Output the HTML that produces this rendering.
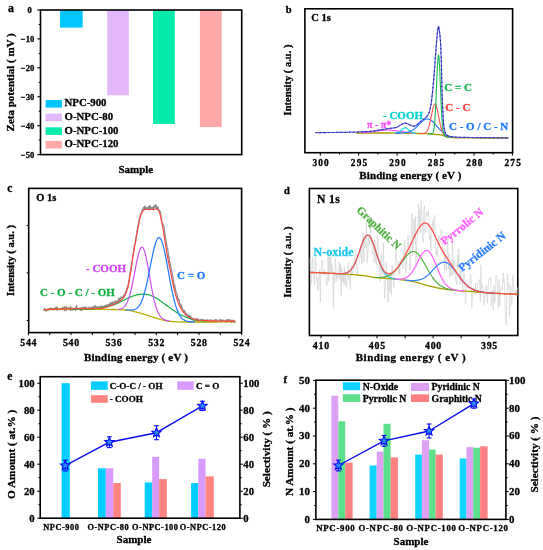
<!DOCTYPE html>
<html><head><meta charset="utf-8"><style>
html,body{margin:0;padding:0;background:#fff;}
svg{display:block;filter:blur(0.35px);}
text{font-family:"Liberation Serif",serif;font-weight:bold;}
</style></head><body>
<svg width="543" height="550" viewBox="0 0 543 550">
<rect width="543" height="550" fill="#fff"/>
<rect x="60.1" y="10.0" width="22.6" height="17.6" fill="#00C5FF"/>
<rect x="107.2" y="10.0" width="21.6" height="85.3" fill="#E2B8FA"/>
<rect x="153.0" y="10.0" width="21.8" height="113.9" fill="#03EBAB"/>
<rect x="199.9" y="10.0" width="21.8" height="117.1" fill="#FFA8AA"/>
<rect x="40.5" y="10.0" width="201.2" height="144.6" fill="none" stroke="#000" stroke-width="1.6"/>
<line x1="37.3" y1="10.0" x2="40.5" y2="10.0" stroke="#000" stroke-width="1.1"/>
<text x="31.9" y="12.9" font-size="8.6" text-anchor="end" fill="#000" stroke="#000" stroke-width="0.3" >0</text>
<line x1="37.3" y1="38.9" x2="40.5" y2="38.9" stroke="#000" stroke-width="1.1"/>
<text x="34.3" y="41.8" font-size="8.6" text-anchor="end" fill="#000" stroke="#000" stroke-width="0.3" >−10</text>
<line x1="37.3" y1="67.8" x2="40.5" y2="67.8" stroke="#000" stroke-width="1.1"/>
<text x="34.3" y="70.7" font-size="8.6" text-anchor="end" fill="#000" stroke="#000" stroke-width="0.3" >−20</text>
<line x1="37.3" y1="96.8" x2="40.5" y2="96.8" stroke="#000" stroke-width="1.1"/>
<text x="34.3" y="99.7" font-size="8.6" text-anchor="end" fill="#000" stroke="#000" stroke-width="0.3" >−30</text>
<line x1="37.3" y1="125.7" x2="40.5" y2="125.7" stroke="#000" stroke-width="1.1"/>
<text x="34.3" y="128.6" font-size="8.6" text-anchor="end" fill="#000" stroke="#000" stroke-width="0.3" >−40</text>
<line x1="37.3" y1="154.6" x2="40.5" y2="154.6" stroke="#000" stroke-width="1.1"/>
<text x="34.3" y="157.5" font-size="8.6" text-anchor="end" fill="#000" stroke="#000" stroke-width="0.3" >−50</text>
<line x1="38.7" y1="24.5" x2="40.5" y2="24.5" stroke="#000" stroke-width="1.0"/>
<line x1="38.7" y1="53.4" x2="40.5" y2="53.4" stroke="#000" stroke-width="1.0"/>
<line x1="38.7" y1="82.3" x2="40.5" y2="82.3" stroke="#000" stroke-width="1.0"/>
<line x1="38.7" y1="111.2" x2="40.5" y2="111.2" stroke="#000" stroke-width="1.0"/>
<line x1="38.7" y1="140.1" x2="40.5" y2="140.1" stroke="#000" stroke-width="1.0"/>
<text x="7.9" y="11.6" font-size="11.8" text-anchor="start" fill="#000" stroke="#000" stroke-width="0.3" >a</text>
<text transform="translate(14.2,82.3) rotate(-90)" font-size="11" text-anchor="middle" fill="#000" stroke="#000" stroke-width="0.3" >Zeta potential ( mV )</text>
<text x="135.8" y="172.8" font-size="11" text-anchor="middle" fill="#000" stroke="#000" stroke-width="0.3" >Sample</text>
<rect x="45.6" y="100.0" width="16.3" height="7.6" fill="#00C5FF"/>
<text x="64.5" y="106.2" font-size="10.8" text-anchor="start" fill="#000" stroke="#000" stroke-width="0.3" >NPC-900</text>
<rect x="45.6" y="113.7" width="16.3" height="7.6" fill="#E2B8FA"/>
<text x="64.5" y="119.9" font-size="10.8" text-anchor="start" fill="#000" stroke="#000" stroke-width="0.3" >O-NPC-80</text>
<rect x="45.6" y="127.3" width="16.3" height="7.6" fill="#03EBAB"/>
<text x="64.5" y="133.5" font-size="10.8" text-anchor="start" fill="#000" stroke="#000" stroke-width="0.3" >O-NPC-100</text>
<rect x="45.6" y="140.9" width="16.3" height="7.6" fill="#FFA8AA"/>
<text x="64.5" y="147.2" font-size="10.8" text-anchor="start" fill="#000" stroke="#000" stroke-width="0.3" >O-NPC-120</text>
<rect x="304.9" y="8.8" width="207.7" height="143.9" fill="none" stroke="#000" stroke-width="1.6"/>
<line x1="320.3" y1="152.7" x2="320.3" y2="155.7" stroke="#000" stroke-width="1.0"/>
<text x="321.2" y="165.6" font-size="9.3" text-anchor="middle" fill="#000" stroke="#000" stroke-width="0.3" letter-spacing="1.2">300</text>
<line x1="339.5" y1="152.7" x2="339.5" y2="154.5" stroke="#000" stroke-width="1.0"/>
<line x1="358.7" y1="152.7" x2="358.7" y2="155.7" stroke="#000" stroke-width="1.0"/>
<text x="359.6" y="165.6" font-size="9.3" text-anchor="middle" fill="#000" stroke="#000" stroke-width="0.3" letter-spacing="1.2">295</text>
<line x1="377.9" y1="152.7" x2="377.9" y2="154.5" stroke="#000" stroke-width="1.0"/>
<line x1="397.1" y1="152.7" x2="397.1" y2="155.7" stroke="#000" stroke-width="1.0"/>
<text x="398.0" y="165.6" font-size="9.3" text-anchor="middle" fill="#000" stroke="#000" stroke-width="0.3" letter-spacing="1.2">290</text>
<line x1="416.4" y1="152.7" x2="416.4" y2="154.5" stroke="#000" stroke-width="1.0"/>
<line x1="435.6" y1="152.7" x2="435.6" y2="155.7" stroke="#000" stroke-width="1.0"/>
<text x="436.5" y="165.6" font-size="9.3" text-anchor="middle" fill="#000" stroke="#000" stroke-width="0.3" letter-spacing="1.2">285</text>
<line x1="454.8" y1="152.7" x2="454.8" y2="154.5" stroke="#000" stroke-width="1.0"/>
<line x1="474.0" y1="152.7" x2="474.0" y2="155.7" stroke="#000" stroke-width="1.0"/>
<text x="474.9" y="165.6" font-size="9.3" text-anchor="middle" fill="#000" stroke="#000" stroke-width="0.3" letter-spacing="1.2">280</text>
<line x1="493.2" y1="152.7" x2="493.2" y2="154.5" stroke="#000" stroke-width="1.0"/>
<line x1="512.4" y1="152.7" x2="512.4" y2="155.7" stroke="#000" stroke-width="1.0"/>
<text x="513.3" y="165.6" font-size="9.3" text-anchor="middle" fill="#000" stroke="#000" stroke-width="0.3" letter-spacing="1.2">275</text>
<text x="285.8" y="12.8" font-size="10.5" text-anchor="start" fill="#000" stroke="#000" stroke-width="0.3" >b</text>
<text x="311.3" y="21.3" font-size="10.5" text-anchor="start" fill="#000" stroke="#000" stroke-width="0.3" >C 1s</text>
<text transform="translate(291.0,80.0) rotate(-90)" font-size="10.5" text-anchor="middle" fill="#000" stroke="#000" stroke-width="0.3" >Intensity ( a.u. )</text>
<text x="410.4" y="178.7" font-size="11" text-anchor="middle" fill="#000" stroke="#000" stroke-width="0.3" letter-spacing="0.1">Binding energy ( eV )</text>
<path d="M356.0,133.0 356.5,133.0 357.0,133.0 357.5,133.0 358.0,133.0 358.5,133.0 359.0,133.0 359.5,133.0 360.0,133.0 360.5,133.0 361.0,133.0 361.5,133.0 362.0,133.0 362.5,133.0 363.0,133.0 363.5,133.0 364.0,133.0 364.5,133.0 365.0,133.0 365.5,133.0 366.0,133.0 366.5,133.0 367.0,133.0 367.5,133.0 368.0,133.0 368.5,133.0 369.0,133.0 369.5,133.0 370.0,133.0 370.5,133.0 371.0,133.0 371.5,133.0 372.0,133.0 372.5,133.0 373.0,133.0 373.5,133.0 374.0,133.0 374.5,133.0 375.0,133.0 375.5,133.0 376.0,133.0 376.5,133.0 377.0,133.0 377.5,133.0 378.0,133.0 378.5,133.0 379.0,133.0 379.5,133.0 380.0,133.0 380.5,133.0 381.0,133.0 381.5,133.0 382.0,133.0 382.5,133.0 383.0,133.0 383.5,133.0 384.0,133.0 384.5,133.0 385.0,133.0 385.5,133.0 386.0,133.0 386.5,133.0 387.0,133.0 387.5,133.0 388.0,133.0 388.5,133.0 389.0,133.0 389.5,133.0 390.0,133.0 390.5,133.0 391.0,133.0 391.5,133.0 392.0,133.1 392.5,133.1 393.0,133.1 393.5,133.1 394.0,133.1 394.5,133.1 395.0,133.1 395.5,133.1 396.0,133.1 396.5,133.1 397.0,133.1 397.5,133.1 398.0,133.1 398.5,133.1 399.0,133.1 399.5,133.1 400.0,133.1 400.5,133.1 401.0,133.2 401.5,133.2 402.0,133.2 402.5,133.2 403.0,133.2 403.5,133.2 404.0,133.2 404.5,133.2 405.0,133.2 405.5,133.2 406.0,133.2 406.5,133.2 407.0,133.2 407.5,133.3 408.0,133.3 408.5,133.3 409.0,133.3 409.5,133.3 410.0,133.3 410.5,133.3 411.0,133.3 411.5,133.3 412.0,133.3 412.5,133.3 413.0,133.4 413.5,133.4 414.0,133.4 414.5,133.4 415.0,133.4 415.5,133.4 416.0,133.4 416.5,133.4 417.0,133.4 417.5,133.4 418.0,133.5 418.5,133.5 419.0,133.5 419.5,133.5 420.0,133.5 420.5,133.5 421.0,133.5 421.5,133.5 422.0,133.6 422.5,133.6 423.0,133.6 423.5,133.6 424.0,133.6 424.5,133.7 425.0,133.7 425.5,133.7 426.0,133.7 426.5,133.7 427.0,133.8 427.5,133.8 428.0,133.8 428.5,133.9 429.0,133.9 429.5,133.9 430.0,133.9 430.5,134.0 431.0,134.0 431.5,134.0 432.0,134.1 432.5,134.1 433.0,134.1 433.5,134.2 434.0,134.2 434.5,134.3 435.0,134.3 435.5,134.4 436.0,134.4 436.5,134.5 437.0,134.5 437.5,134.5 438.0,134.6 438.5,134.6 439.0,134.7 439.5,134.7 440.0,134.8 440.5,134.9 441.0,134.9 441.5,135.0 442.0,135.1 442.5,135.2 443.0,135.4 443.5,135.6 444.0,135.8 444.5,136.1 445.0,136.3 445.5,136.5 446.0,136.7 446.5,136.8 447.0,136.9 447.5,137.0 448.0,137.0 448.5,137.1 449.0,137.2 449.5,137.2 450.0,137.3 450.5,137.4 451.0,137.4 451.5,137.5 452.0,137.6 452.5,137.6 453.0,137.7 453.5,137.7 454.0,137.8 454.5,137.8 455.0,137.8 455.5,137.8 456.0,137.8 456.5,137.8 457.0,137.8 457.5,137.8 458.0,137.8 458.5,137.8 459.0,137.8 459.5,137.8 460.0,137.8 460.5,137.8 461.0,137.9 461.5,137.9 462.0,137.9 462.5,137.9 463.0,137.9 463.5,137.9 464.0,137.9 464.5,137.9 465.0,137.9 465.5,137.9 466.0,137.9 466.5,137.9 467.0,137.9 467.5,137.9 468.0,137.9 468.5,137.9 469.0,137.9 469.5,137.9 470.0,137.9 470.5,137.9 471.0,137.9 471.5,137.9 472.0,137.9 472.5,137.9 473.0,137.9 473.5,137.9 474.0,137.9 474.5,137.9 475.0,137.9 475.5,137.9 476.0,137.9 476.5,137.9 477.0,137.9 477.5,137.9 478.0,138.0 478.5,138.0 479.0,138.0 479.5,138.0 480.0,138.0 480.5,138.0 481.0,138.0 481.5,138.0 482.0,138.0 482.5,138.0 483.0,138.0 483.5,138.0 484.0,138.0 484.5,138.0 485.0,138.0 485.5,138.0 486.0,138.0 486.5,138.0 487.0,138.0 487.5,138.0 488.0,138.0 488.5,138.0 489.0,138.0 489.5,138.0 490.0,138.0 490.5,138.0 491.0,138.0 491.5,138.0 492.0,138.0 492.5,138.0 493.0,138.0 493.5,138.0 494.0,138.0 494.5,138.0 495.0,138.0 495.5,138.0 496.0,138.0 496.5,138.0 497.0,138.0 497.5,138.0 498.0,138.0 498.5,138.0 499.0,138.0 499.5,138.0 500.0,138.0 500.5,138.0 501.0,138.0 501.5,138.0 502.0,138.0 502.5,138.0 503.0,138.0 503.5,138.0 504.0,138.0 504.5,138.0 505.0,138.0 505.5,138.0 506.0,138.0 506.5,138.0 507.0,138.0 507.5,138.0 508.0,138.0 508.5,138.0" fill="none" stroke="#A89A00" stroke-width="1.3" stroke-linejoin="round" />
<path d="M362.0,132.7 362.2,132.7 362.5,132.7 362.8,132.7 363.0,132.7 363.2,132.6 363.5,132.6 363.8,132.6 364.0,132.6 364.2,132.6 364.5,132.6 364.8,132.5 365.0,132.5 365.2,132.5 365.5,132.5 365.8,132.5 366.0,132.4 366.2,132.4 366.5,132.4 366.8,132.4 367.0,132.4 367.2,132.3 367.5,132.3 367.8,132.3 368.0,132.3 368.2,132.2 368.5,132.2 368.8,132.2 369.0,132.1 369.2,132.1 369.5,132.1 369.8,132.1 370.0,132.0 370.2,132.0 370.5,132.0 370.8,131.9 371.0,131.9 371.2,131.9 371.5,131.8 371.8,131.8 372.0,131.8 372.2,131.7 372.5,131.7 372.8,131.7 373.0,131.6 373.2,131.6 373.5,131.6 373.8,131.5 374.0,131.5 374.2,131.4 374.5,131.4 374.8,131.4 375.0,131.3 375.2,131.3 375.5,131.3 375.8,131.2 376.0,131.2 376.2,131.1 376.5,131.1 376.8,131.1 377.0,131.0 377.2,131.0 377.5,131.0 377.8,130.9 378.0,130.9 378.2,130.8 378.5,130.8 378.8,130.8 379.0,130.7 379.2,130.7 379.5,130.7 379.8,130.6 380.0,130.6 380.2,130.6 380.5,130.5 380.8,130.5 381.0,130.5 381.2,130.4 381.5,130.4 381.8,130.4 382.0,130.4 382.2,130.3 382.5,130.3 382.8,130.3 383.0,130.3 383.2,130.2 383.5,130.2 383.8,130.2 384.0,130.2 384.2,130.1 384.5,130.1 384.8,130.1 385.0,130.1 385.2,130.1 385.5,130.1 385.8,130.1 386.0,130.1 386.2,130.0 386.5,130.0 386.8,130.0 387.0,130.0 387.2,130.0 387.5,130.0 387.8,130.0 388.0,130.0 388.2,130.0 388.5,130.0 388.8,130.0 389.0,130.0 389.2,130.0 389.5,130.1 389.8,130.1 390.0,130.1 390.2,130.1 390.5,130.1 390.8,130.1 391.0,130.1 391.2,130.2 391.5,130.2 391.8,130.2 392.0,130.2 392.2,130.2 392.5,130.3 392.8,130.3 393.0,130.3 393.2,130.3 393.5,130.4 393.8,130.4 394.0,130.4 394.2,130.5 394.5,130.5 394.8,130.5 395.0,130.6 395.2,130.6 395.5,130.6 395.8,130.7 396.0,130.7 396.2,130.7 396.5,130.8 396.8,130.8 397.0,130.8 397.2,130.9 397.5,130.9 397.8,131.0 398.0,131.0 398.2,131.0 398.5,131.1 398.8,131.1 399.0,131.2 399.2,131.2 399.5,131.2 399.8,131.3 400.0,131.3 400.2,131.4 400.5,131.4 400.8,131.4 401.0,131.5 401.2,131.5 401.5,131.6 401.8,131.6 402.0,131.6 402.2,131.7 402.5,131.7 402.8,131.8 403.0,131.8 403.2,131.8 403.5,131.9 403.8,131.9 404.0,132.0 404.2,132.0 404.5,132.0 404.8,132.1 405.0,132.1 405.2,132.1 405.5,132.2 405.8,132.2 406.0,132.3 406.2,132.3 406.5,132.3 406.8,132.4 407.0,132.4 407.2,132.4 407.5,132.5 407.8,132.5 408.0,132.5 408.2,132.5 408.5,132.6 408.8,132.6 409.0,132.6 409.2,132.7 409.5,132.7 409.8,132.7 410.0,132.7 410.2,132.8 410.5,132.8 410.8,132.8 411.0,132.8 411.2,132.9 411.5,132.9 411.8,132.9 412.0,132.9 412.2,133.0 412.5,133.0 412.8,133.0 413.0,133.0 413.2,133.0 413.5,133.1 413.8,133.1 414.0,133.1" fill="none" stroke="#FF44FF" stroke-width="1.1" stroke-linejoin="round" />
<path d="M396.0,133.0 396.2,132.9 396.5,132.9 396.8,132.9 397.0,132.8 397.2,132.8 397.5,132.7 397.8,132.7 398.0,132.6 398.2,132.5 398.5,132.4 398.8,132.3 399.0,132.2 399.2,132.0 399.5,131.9 399.8,131.7 400.0,131.5 400.2,131.4 400.5,131.2 400.8,130.9 401.0,130.7 401.2,130.5 401.5,130.3 401.8,130.0 402.0,129.8 402.2,129.6 402.5,129.3 402.8,129.1 403.0,128.9 403.2,128.7 403.5,128.5 403.8,128.3 404.0,128.2 404.2,128.1 404.5,128.0 404.8,127.9 405.0,127.8 405.2,127.8 405.5,127.8 405.8,127.9 406.0,127.9 406.2,128.0 406.5,128.2 406.8,128.3 407.0,128.5 407.2,128.7 407.5,128.9 407.8,129.1 408.0,129.3 408.2,129.6 408.5,129.8 408.8,130.0 409.0,130.3 409.2,130.5 409.5,130.8 409.8,131.0 410.0,131.2 410.2,131.4 410.5,131.6 410.8,131.8 411.0,132.0 411.2,132.2 411.5,132.3 411.8,132.4 412.0,132.6 412.2,132.7 412.5,132.8 412.8,132.9 413.0,132.9 413.2,133.0 413.5,133.1 413.8,133.1 414.0,133.2 414.2,133.2 414.5,133.2 414.8,133.3 415.0,133.3 415.2,133.3 415.5,133.3 415.8,133.4 416.0,133.4" fill="none" stroke="#00D2D2" stroke-width="1.1" stroke-linejoin="round" />
<path d="M395.0,133.1 395.2,133.1 395.5,133.1 395.8,133.1 396.0,133.1 396.2,133.1 396.5,133.1 396.8,133.1 397.0,133.1 397.2,133.1 397.5,133.1 397.8,133.1 398.0,133.1 398.2,133.1 398.5,133.1 398.8,133.1 399.0,133.1 399.2,133.1 399.5,133.1 399.8,133.1 400.0,133.1 400.2,133.0 400.5,133.0 400.8,133.0 401.0,133.0 401.2,133.0 401.5,133.0 401.8,133.0 402.0,133.0 402.2,133.0 402.5,133.0 402.8,133.0 403.0,132.9 403.2,132.9 403.5,132.9 403.8,132.9 404.0,132.9 404.2,132.8 404.5,132.8 404.8,132.8 405.0,132.7 405.2,132.7 405.5,132.7 405.8,132.6 406.0,132.6 406.2,132.6 406.5,132.5 406.8,132.5 407.0,132.4 407.2,132.3 407.5,132.3 407.8,132.2 408.0,132.2 408.2,132.1 408.5,132.0 408.8,131.9 409.0,131.9 409.2,131.8 409.5,131.7 409.8,131.6 410.0,131.5 410.2,131.4 410.5,131.3 410.8,131.1 411.0,131.0 411.2,130.9 411.5,130.8 411.8,130.6 412.0,130.5 412.2,130.3 412.5,130.2 412.8,130.0 413.0,129.9 413.2,129.7 413.5,129.5 413.8,129.3 414.0,129.1 414.2,128.9 414.5,128.7 414.8,128.5 415.0,128.3 415.2,128.1 415.5,127.9 415.8,127.7 416.0,127.5 416.2,127.2 416.5,127.0 416.8,126.8 417.0,126.5 417.2,126.3 417.5,126.0 417.8,125.8 418.0,125.5 418.2,125.3 418.5,125.0 418.8,124.8 419.0,124.5 419.2,124.2 419.5,124.0 419.8,123.7 420.0,123.5 420.2,123.2 420.5,123.0 420.8,122.7 421.0,122.5 421.2,122.3 421.5,122.0 421.8,121.8 422.0,121.6 422.2,121.4 422.5,121.2 422.8,121.0 423.0,120.8 423.2,120.6 423.5,120.4 423.8,120.2 424.0,120.1 424.2,119.9 424.5,119.8 424.8,119.7 425.0,119.5 425.2,119.4 425.5,119.3 425.8,119.2 426.0,119.2 426.2,119.1 426.5,119.1 426.8,119.0 427.0,119.0 427.2,119.0 427.5,119.0 427.8,119.0 428.0,119.0 428.2,119.1 428.5,119.1 428.8,119.2 429.0,119.3 429.2,119.4 429.5,119.5 429.8,119.6 430.0,119.7 430.2,119.8 430.5,120.0 430.8,120.1 431.0,120.3 431.2,120.5 431.5,120.7 431.8,120.9 432.0,121.1 432.2,121.3 432.5,121.5 432.8,121.7 433.0,122.0 433.2,122.2 433.5,122.5 433.8,122.7 434.0,123.0 434.2,123.3 434.5,123.5 434.8,123.8 435.0,124.1 435.2,124.4 435.5,124.6 435.8,124.9 436.0,125.2 436.2,125.5 436.5,125.8 436.8,126.1 437.0,126.4 437.2,126.6 437.5,126.9 437.8,127.2 438.0,127.5 438.2,127.7 438.5,128.0 438.8,128.3 439.0,128.5 439.2,128.8 439.5,129.1 439.8,129.3 440.0,129.6 440.2,129.8 440.5,130.1 440.8,130.3 441.0,130.5 441.2,130.8 441.5,131.0 441.8,131.2 442.0,131.5 442.2,131.7 442.5,131.9 442.8,132.2 443.0,132.4 443.2,132.7 443.5,132.9 443.8,133.2 444.0,133.4 444.2,133.7 444.5,133.9 444.8,134.2 445.0,134.4 445.2,134.6 445.5,134.8 445.8,135.0 446.0,135.2 446.2,135.3 446.5,135.4 446.8,135.6 447.0,135.7 447.2,135.8 447.5,135.9 447.8,136.0 448.0,136.1 448.2,136.2 448.5,136.3 448.8,136.4 449.0,136.5 449.2,136.6 449.5,136.7 449.8,136.7 450.0,136.8 450.2,136.9 450.5,136.9 450.8,137.0 451.0,137.1 451.2,137.1 451.5,137.2 451.8,137.2 452.0,137.3" fill="none" stroke="#1E7BFF" stroke-width="1.1" stroke-linejoin="round" />
<path d="M420.0,133.5 420.2,133.5 420.5,133.5 420.8,133.5 421.0,133.5 421.2,133.5 421.5,133.5 421.8,133.5 422.0,133.5 422.2,133.5 422.5,133.5 422.8,133.5 423.0,133.5 423.2,133.5 423.5,133.4 423.8,133.4 424.0,133.3 424.2,133.3 424.5,133.2 424.8,133.1 425.0,133.0 425.2,132.9 425.5,132.8 425.8,132.6 426.0,132.4 426.2,132.2 426.5,131.9 426.8,131.6 427.0,131.2 427.2,130.8 427.5,130.3 427.8,129.8 428.0,129.3 428.2,128.6 428.5,127.9 428.8,127.2 429.0,126.3 429.2,125.4 429.5,124.5 429.8,123.5 430.0,122.4 430.2,121.3 430.5,120.1 430.8,118.9 431.0,117.7 431.2,116.4 431.5,115.1 431.8,113.9 432.0,112.7 432.2,111.5 432.5,110.3 432.8,109.2 433.0,108.2 433.2,107.2 433.5,106.4 433.8,105.7 434.0,105.1 434.2,104.6 434.5,104.3 434.8,104.1 435.0,104.0 435.2,104.1 435.5,104.3 435.8,104.7 436.0,105.2 436.2,105.9 436.5,106.7 436.8,107.6 437.0,108.5 437.2,109.6 437.5,110.7 437.8,111.9 438.0,113.2 438.2,114.5 438.5,115.8 438.8,117.1 439.0,118.3 439.2,119.6 439.5,120.9 439.8,122.1 440.0,123.3 440.2,124.4 440.5,125.4 440.8,126.4 441.0,127.4 441.2,128.3 441.5,129.1 441.8,129.8 442.0,130.5 442.2,131.2 442.5,131.8 442.8,132.3 443.0,132.8 443.2,133.3 443.5,133.7 443.8,134.1 444.0,134.5 444.2,134.8 444.5,135.1 444.8,135.4 445.0,135.7 445.2,135.9 445.5,136.1 445.8,136.2 446.0,136.4 446.2,136.5 446.5,136.6 446.8,136.7 447.0,136.7 447.2,136.8 447.5,136.9 447.8,136.9 448.0,137.0 448.2,137.0 448.5,137.1 448.8,137.1 449.0,137.2 449.2,137.2 449.5,137.2 449.8,137.3 450.0,137.3" fill="none" stroke="#FF5050" stroke-width="1.1" stroke-linejoin="round" />
<path d="M428.0,133.8 428.2,133.8 428.5,133.9 428.8,133.9 429.0,133.9 429.2,133.9 429.5,133.9 429.8,133.9 430.0,133.9 430.2,133.9 430.5,134.0 430.8,134.0 431.0,134.0 431.2,133.9 431.5,133.9 431.8,133.8 432.0,133.8 432.2,133.6 432.5,133.4 432.8,133.1 433.0,132.7 433.2,132.0 433.5,131.2 433.8,130.1 434.0,128.7 434.2,126.8 434.5,124.6 434.8,121.8 435.0,118.4 435.2,114.5 435.5,110.0 435.8,105.0 436.0,99.5 436.2,93.6 436.5,87.5 436.8,81.3 437.0,75.4 437.2,69.8 437.5,64.8 437.8,60.7 438.0,57.7 438.2,55.8 438.5,55.1 438.8,55.8 439.0,57.8 439.2,60.9 439.5,65.0 439.8,70.0 440.0,75.7 440.2,81.7 440.5,87.9 440.8,94.0 441.0,100.0 441.2,105.6 441.5,110.7 441.8,115.2 442.0,119.2 442.2,122.6 442.5,125.5 442.8,127.9 443.0,129.9 443.2,131.4 443.5,132.6 443.8,133.6 444.0,134.3 444.2,134.9 444.5,135.4 444.8,135.7 445.0,136.0 445.2,136.2 445.5,136.4 445.8,136.5 446.0,136.6 446.2,136.7 446.5,136.7 446.8,136.8 447.0,136.9 447.2,136.9 447.5,136.9 447.8,137.0 448.0,137.0 448.2,137.1 448.5,137.1 448.8,137.1 449.0,137.2 449.2,137.2 449.5,137.2 449.8,137.3 450.0,137.3" fill="none" stroke="#14B850" stroke-width="1.1" stroke-linejoin="round" />
<path d="M315.5,132.6 315.8,132.6 316.0,132.6 316.2,132.6 316.5,132.6 316.8,132.6 317.0,132.6 317.2,132.6 317.5,132.6 317.8,132.6 318.0,132.6 318.2,132.6 318.5,132.6 318.8,132.6 319.0,132.6 319.2,132.6 319.5,132.6 319.8,132.6 320.0,132.6 320.2,132.6 320.5,132.6 320.8,132.6 321.0,132.6 321.2,132.6 321.5,132.6 321.8,132.6 322.0,132.6 322.2,132.6 322.5,132.6 322.8,132.6 323.0,132.6 323.2,132.6 323.5,132.6 323.8,132.6 324.0,132.6 324.2,132.6 324.5,132.6 324.8,132.6 325.0,132.6 325.2,132.6 325.5,132.6 325.8,132.6 326.0,132.6 326.2,132.6 326.5,132.5 326.8,132.5 327.0,132.5 327.2,132.5 327.5,132.5 327.8,132.5 328.0,132.5 328.2,132.5 328.5,132.5 328.8,132.5 329.0,132.5 329.2,132.5 329.5,132.5 329.8,132.5 330.0,132.5 330.2,132.5 330.5,132.5 330.8,132.5 331.0,132.5 331.2,132.5 331.5,132.5 331.8,132.5 332.0,132.5 332.2,132.5 332.5,132.5 332.8,132.5 333.0,132.5 333.2,132.5 333.5,132.5 333.8,132.5 334.0,132.5 334.2,132.5 334.5,132.5 334.8,132.5 335.0,132.5 335.2,132.5 335.5,132.5 335.8,132.5 336.0,132.4 336.2,132.4 336.5,132.4 336.8,132.4 337.0,132.4 337.2,132.4 337.5,132.4 337.8,132.4 338.0,132.4 338.2,132.4 338.5,132.4 338.8,132.4 339.0,132.4 339.2,132.4 339.5,132.4 339.8,132.4 340.0,132.4 340.2,132.4 340.5,132.4 340.8,132.4 341.0,132.4 341.2,132.4 341.5,132.4 341.8,132.4 342.0,132.4 342.2,132.4 342.5,132.4 342.8,132.4 343.0,132.4 343.2,132.4 343.5,132.3 343.8,132.3 344.0,132.3 344.2,132.3 344.5,132.3 344.8,132.3 345.0,132.3 345.2,132.3 345.5,132.3 345.8,132.3 346.0,132.3 346.2,132.3 346.5,132.3 346.8,132.3 347.0,132.3 347.2,132.3 347.5,132.3 347.8,132.3 348.0,132.3 348.2,132.2 348.5,132.2 348.8,132.2 349.0,132.2 349.2,132.2 349.5,132.2 349.8,132.2 350.0,132.2 350.2,132.2 350.5,132.2 350.8,132.2 351.0,132.2 351.2,132.2 351.5,132.2 351.8,132.2 352.0,132.1 352.2,132.1 352.5,132.1 352.8,132.1 353.0,132.1 353.2,132.1 353.5,132.1 353.8,132.1 354.0,132.1 354.2,132.1 354.5,132.1 354.8,132.1 355.0,132.1 355.2,132.0 355.5,132.0 355.8,132.0 356.0,132.0 356.2,132.0 356.5,132.0 356.8,132.0 357.0,132.0 357.2,132.0 357.5,132.0 357.8,132.0 358.0,132.0 358.2,131.9 358.5,131.9 358.8,131.9 359.0,131.9 359.2,131.9 359.5,131.9 359.8,131.9 360.0,131.9 360.2,131.9 360.5,131.9 360.8,131.8 361.0,131.8 361.2,131.8 361.5,131.8 361.8,131.8 362.0,131.8 362.2,131.8 362.5,131.8 362.8,131.8 363.0,131.8 363.2,131.7 363.5,131.7 363.8,131.7 364.0,131.7 364.2,131.7 364.5,131.7 364.8,131.7 365.0,131.7 365.2,131.6 365.5,131.6 365.8,131.6 366.0,131.6 366.2,131.6 366.5,131.6 366.8,131.6 367.0,131.5 367.2,131.5 367.5,131.5 367.8,131.5 368.0,131.5 368.2,131.5 368.5,131.5 368.8,131.4 369.0,131.4 369.2,131.4 369.5,131.4 369.8,131.4 370.0,131.4 370.2,131.3 370.5,131.3 370.8,131.3 371.0,131.3 371.2,131.3 371.5,131.2 371.8,131.2 372.0,131.2 372.2,131.2 372.5,131.2 372.8,131.1 373.0,131.1 373.2,131.1 373.5,131.1 373.8,131.0 374.0,131.0 374.2,131.0 374.5,130.9 374.8,130.9 375.0,130.9 375.2,130.8 375.5,130.8 375.8,130.7 376.0,130.7 376.2,130.6 376.5,130.6 376.8,130.5 377.0,130.5 377.2,130.4 377.5,130.4 377.8,130.3 378.0,130.3 378.2,130.2 378.5,130.2 378.8,130.1 379.0,130.1 379.2,130.0 379.5,130.0 379.8,129.9 380.0,129.9 380.2,129.9 380.5,129.8 380.8,129.8 381.0,129.7 381.2,129.7 381.5,129.7 381.8,129.6 382.0,129.6 382.2,129.5 382.5,129.5 382.8,129.5 383.0,129.4 383.2,129.4 383.5,129.3 383.8,129.3 384.0,129.3 384.2,129.2 384.5,129.2 384.8,129.1 385.0,129.1 385.2,129.1 385.5,129.0 385.8,129.0 386.0,128.9 386.2,128.9 386.5,128.9 386.8,128.8 387.0,128.8 387.2,128.8 387.5,128.7 387.8,128.7 388.0,128.6 388.2,128.6 388.5,128.6 388.8,128.5 389.0,128.5 389.2,128.5 389.5,128.4 389.8,128.4 390.0,128.4 390.2,128.3 390.5,128.3 390.8,128.3 391.0,128.3 391.2,128.2 391.5,128.2 391.8,128.2 392.0,128.2 392.2,128.1 392.5,128.1 392.8,128.1 393.0,128.0 393.2,128.0 393.5,128.0 393.8,127.9 394.0,127.9 394.2,127.9 394.5,127.8 394.8,127.8 395.0,127.7 395.2,127.7 395.5,127.6 395.8,127.6 396.0,127.5 396.2,127.5 396.5,127.4 396.8,127.4 397.0,127.3 397.2,127.2 397.5,127.0 397.8,126.9 398.0,126.7 398.2,126.6 398.5,126.4 398.8,126.2 399.0,126.0 399.2,125.8 399.5,125.6 399.8,125.5 400.0,125.3 400.2,125.1 400.5,125.0 400.8,124.9 401.0,124.8 401.2,124.6 401.5,124.5 401.8,124.4 402.0,124.2 402.2,124.1 402.5,124.0 402.8,123.8 403.0,123.7 403.2,123.6 403.5,123.5 403.8,123.4 404.0,123.3 404.2,123.2 404.5,123.2 404.8,123.1 405.0,123.1 405.2,123.1 405.5,123.1 405.8,123.1 406.0,123.2 406.2,123.3 406.5,123.3 406.8,123.4 407.0,123.5 407.2,123.7 407.5,123.8 407.8,123.9 408.0,124.0 408.2,124.2 408.5,124.3 408.8,124.4 409.0,124.6 409.2,124.7 409.5,124.8 409.8,124.9 410.0,125.0 410.2,125.1 410.5,125.2 410.8,125.3 411.0,125.4 411.2,125.5 411.5,125.6 411.8,125.7 412.0,125.8 412.2,125.9 412.5,125.9 412.8,126.0 413.0,126.1 413.2,126.1 413.5,126.2 413.8,126.2 414.0,126.2 414.2,126.2 414.5,126.1 414.8,126.0 415.0,125.9 415.2,125.7 415.5,125.6 415.8,125.4 416.0,125.2 416.2,125.1 416.5,124.9 416.8,124.7 417.0,124.6 417.2,124.4 417.5,124.2 417.8,124.0 418.0,123.8 418.2,123.6 418.5,123.3 418.8,123.1 419.0,122.9 419.2,122.7 419.5,122.4 419.8,122.2 420.0,122.0 420.2,121.8 420.5,121.5 420.8,121.3 421.0,121.1 421.2,120.9 421.5,120.7 421.8,120.5 422.0,120.4 422.2,120.2 422.5,120.0 422.8,119.9 423.0,119.7 423.2,119.6 423.5,119.4 423.8,119.2 424.0,119.1 424.2,118.9 424.5,118.7 424.8,118.5 425.0,118.3 425.2,118.1 425.5,117.9 425.8,117.6 426.0,117.4 426.2,117.1 426.5,116.8 426.8,116.5 427.0,116.2 427.2,115.9 427.5,115.5 427.8,115.1 428.0,114.7 428.2,114.3 428.5,113.8 428.8,113.3 429.0,112.7 429.2,112.1 429.5,111.4 429.8,110.6 430.0,109.6 430.2,108.5 430.5,107.2 430.8,105.9 431.0,104.5 431.2,102.9 431.5,101.0 431.8,99.0 432.0,96.8 432.2,94.6 432.5,92.2 432.8,89.8 433.0,87.2 433.2,84.5 433.5,81.8 433.8,78.8 434.0,75.8 434.2,72.6 434.5,69.4 434.8,65.9 435.0,62.5 435.2,59.0 435.5,55.7 435.8,52.4 436.0,49.2 436.2,46.0 436.5,43.0 436.8,40.0 437.0,37.0 437.2,34.1 437.5,31.7 437.8,30.0 438.0,28.3 438.2,27.0 438.5,26.5 438.8,27.0 439.0,28.3 439.2,30.0 439.5,31.7 439.8,33.6 440.0,35.8 440.2,38.5 440.5,41.8 440.8,46.6 441.0,52.7 441.2,58.9 441.5,67.9 441.8,80.3 442.0,90.9 442.2,98.1 442.5,104.2 442.8,109.7 443.0,114.7 443.2,119.4 443.5,123.0 443.8,125.4 444.0,127.3 444.2,128.8 444.5,130.0 444.8,131.0 445.0,131.8 445.2,132.6 445.5,133.3 445.8,133.8 446.0,134.3 446.2,134.5 446.5,134.8 446.8,135.0 447.0,135.2 447.2,135.3 447.5,135.5 447.8,135.6 448.0,135.8 448.2,135.9 448.5,136.0 448.8,136.1 449.0,136.2 449.2,136.2 449.5,136.3 449.8,136.4 450.0,136.4 450.2,136.4 450.5,136.5 450.8,136.5 451.0,136.6 451.2,136.6 451.5,136.6 451.8,136.7 452.0,136.7 452.2,136.7 452.5,136.8 452.8,136.8 453.0,136.8 453.2,136.9 453.5,136.9 453.8,136.9 454.0,136.9 454.2,137.0 454.5,137.0 454.8,137.0 455.0,137.0 455.2,137.1 455.5,137.1 455.8,137.1 456.0,137.1 456.2,137.1 456.5,137.1 456.8,137.2 457.0,137.2 457.2,137.2 457.5,137.2 457.8,137.2 458.0,137.2 458.2,137.2 458.5,137.3 458.8,137.3 459.0,137.3 459.2,137.3 459.5,137.3 459.8,137.3 460.0,137.3 460.2,137.3 460.5,137.3 460.8,137.3 461.0,137.3 461.2,137.3 461.5,137.3 461.8,137.3 462.0,137.3 462.2,137.3 462.5,137.4 462.8,137.4 463.0,137.4 463.2,137.4 463.5,137.4 463.8,137.4 464.0,137.4 464.2,137.4 464.5,137.4 464.8,137.4 465.0,137.4 465.2,137.4 465.5,137.4 465.8,137.4 466.0,137.4 466.2,137.4 466.5,137.4 466.8,137.4 467.0,137.4 467.2,137.4 467.5,137.5 467.8,137.5 468.0,137.5 468.2,137.5 468.5,137.5 468.8,137.5 469.0,137.5 469.2,137.5 469.5,137.5 469.8,137.5 470.0,137.5 470.2,137.5 470.5,137.5 470.8,137.5 471.0,137.5 471.2,137.5 471.5,137.5 471.8,137.5 472.0,137.5 472.2,137.5 472.5,137.5 472.8,137.5 473.0,137.5 473.2,137.5 473.5,137.6 473.8,137.6 474.0,137.6 474.2,137.6 474.5,137.6 474.8,137.6 475.0,137.6 475.2,137.6 475.5,137.6 475.8,137.6 476.0,137.6 476.2,137.6 476.5,137.6 476.8,137.6 477.0,137.6 477.2,137.6 477.5,137.6 477.8,137.6 478.0,137.6 478.2,137.6 478.5,137.6 478.8,137.6 479.0,137.6 479.2,137.6 479.5,137.6 479.8,137.6 480.0,137.6 480.2,137.6 480.5,137.6 480.8,137.6 481.0,137.7 481.2,137.7 481.5,137.7 481.8,137.7 482.0,137.7 482.2,137.7 482.5,137.7 482.8,137.7 483.0,137.7 483.2,137.7 483.5,137.7 483.8,137.7 484.0,137.7 484.2,137.7 484.5,137.7 484.8,137.7 485.0,137.7 485.2,137.7 485.5,137.7 485.8,137.7 486.0,137.7 486.2,137.7 486.5,137.7 486.8,137.7 487.0,137.7 487.2,137.7 487.5,137.7 487.8,137.7 488.0,137.7 488.2,137.7 488.5,137.7 488.8,137.7 489.0,137.7 489.2,137.7 489.5,137.7 489.8,137.7 490.0,137.7 490.2,137.7 490.5,137.7 490.8,137.7 491.0,137.7 491.2,137.7 491.5,137.7 491.8,137.7 492.0,137.7 492.2,137.7 492.5,137.8 492.8,137.8 493.0,137.8 493.2,137.8 493.5,137.8 493.8,137.8 494.0,137.8 494.2,137.8 494.5,137.8 494.8,137.8 495.0,137.8 495.2,137.8 495.5,137.8 495.8,137.8 496.0,137.8 496.2,137.8 496.5,137.8 496.8,137.8 497.0,137.8 497.2,137.8 497.5,137.8 497.8,137.8 498.0,137.8 498.2,137.8 498.5,137.8 498.8,137.8 499.0,137.8 499.2,137.8 499.5,137.8 499.8,137.8 500.0,137.8 500.2,137.8 500.5,137.8 500.8,137.8 501.0,137.8 501.2,137.8 501.5,137.8 501.8,137.8 502.0,137.8 502.2,137.8 502.5,137.8 502.8,137.8 503.0,137.8 503.2,137.8 503.5,137.8 503.8,137.8 504.0,137.8 504.2,137.8 504.5,137.8 504.8,137.8 505.0,137.8 505.2,137.8 505.5,137.8 505.8,137.8 506.0,137.8 506.2,137.8 506.5,137.8 506.8,137.8 507.0,137.8 507.2,137.8 507.5,137.8 507.8,137.8 508.0,137.8 508.2,137.8 508.5,137.8" fill="none" stroke="#5A5AF5" stroke-width="1.2" stroke-linejoin="round" />
<path d="M315.5,132.6 315.8,132.6 316.0,132.6 316.2,132.6 316.5,132.6 316.8,132.6 317.0,132.6 317.2,132.6 317.5,132.6 317.8,132.6 318.0,132.6 318.2,132.6 318.5,132.6 318.8,132.6 319.0,132.6 319.2,132.6 319.5,132.6 319.8,132.6 320.0,132.6 320.2,132.6 320.5,132.6 320.8,132.6 321.0,132.6 321.2,132.6 321.5,132.6 321.8,132.6 322.0,132.6 322.2,132.6 322.5,132.6 322.8,132.6 323.0,132.6 323.2,132.6 323.5,132.6 323.8,132.6 324.0,132.6 324.2,132.6 324.5,132.6 324.8,132.6 325.0,132.6 325.2,132.6 325.5,132.6 325.8,132.6 326.0,132.6 326.2,132.6 326.5,132.5 326.8,132.5 327.0,132.5 327.2,132.5 327.5,132.5 327.8,132.5 328.0,132.5 328.2,132.5 328.5,132.5 328.8,132.5 329.0,132.5 329.2,132.5 329.5,132.5 329.8,132.5 330.0,132.5 330.2,132.5 330.5,132.5 330.8,132.5 331.0,132.5 331.2,132.5 331.5,132.5 331.8,132.5 332.0,132.5 332.2,132.5 332.5,132.5 332.8,132.5 333.0,132.5 333.2,132.5 333.5,132.5 333.8,132.5 334.0,132.5 334.2,132.5 334.5,132.5 334.8,132.5 335.0,132.5 335.2,132.5 335.5,132.5 335.8,132.5 336.0,132.4 336.2,132.4 336.5,132.4 336.8,132.4 337.0,132.4 337.2,132.4 337.5,132.4 337.8,132.4 338.0,132.4 338.2,132.4 338.5,132.4 338.8,132.4 339.0,132.4 339.2,132.4 339.5,132.4 339.8,132.4 340.0,132.4 340.2,132.4 340.5,132.4 340.8,132.4 341.0,132.4 341.2,132.4 341.5,132.4 341.8,132.4 342.0,132.4 342.2,132.4 342.5,132.4 342.8,132.4 343.0,132.4 343.2,132.4 343.5,132.3 343.8,132.3 344.0,132.3 344.2,132.3 344.5,132.3 344.8,132.3 345.0,132.3 345.2,132.3 345.5,132.3 345.8,132.3 346.0,132.3 346.2,132.3 346.5,132.3 346.8,132.3 347.0,132.3 347.2,132.3 347.5,132.3 347.8,132.3 348.0,132.3 348.2,132.2 348.5,132.2 348.8,132.2 349.0,132.2 349.2,132.2 349.5,132.2 349.8,132.2 350.0,132.2 350.2,132.2 350.5,132.2 350.8,132.2 351.0,132.2 351.2,132.2 351.5,132.2 351.8,132.2 352.0,132.1 352.2,132.1 352.5,132.1 352.8,132.1 353.0,132.1 353.2,132.1 353.5,132.1 353.8,132.1 354.0,132.1 354.2,132.1 354.5,132.1 354.8,132.1 355.0,132.1 355.2,132.0 355.5,132.0 355.8,132.0 356.0,132.0 356.2,132.0 356.5,132.0 356.8,132.0 357.0,132.0 357.2,132.0 357.5,132.0 357.8,132.0 358.0,132.0 358.2,131.9 358.5,131.9 358.8,131.9 359.0,131.9 359.2,131.9 359.5,131.9 359.8,131.9 360.0,131.9 360.2,131.9 360.5,131.9 360.8,131.8 361.0,131.8 361.2,131.8 361.5,131.8 361.8,131.8 362.0,131.8 362.2,131.8 362.5,131.8 362.8,131.8 363.0,131.8 363.2,131.7 363.5,131.7 363.8,131.7 364.0,131.7 364.2,131.7 364.5,131.7 364.8,131.7 365.0,131.7 365.2,131.6 365.5,131.6 365.8,131.6 366.0,131.6 366.2,131.6 366.5,131.6 366.8,131.6 367.0,131.5 367.2,131.5 367.5,131.5 367.8,131.5 368.0,131.5 368.2,131.5 368.5,131.5 368.8,131.4 369.0,131.4 369.2,131.4 369.5,131.4 369.8,131.4 370.0,131.4 370.2,131.3 370.5,131.3 370.8,131.3 371.0,131.3 371.2,131.3 371.5,131.2 371.8,131.2 372.0,131.2 372.2,131.2 372.5,131.2 372.8,131.1 373.0,131.1 373.2,131.1 373.5,131.1 373.8,131.0 374.0,131.0 374.2,131.0 374.5,130.9 374.8,130.9 375.0,130.9 375.2,130.8 375.5,130.8 375.8,130.7 376.0,130.7 376.2,130.6 376.5,130.6 376.8,130.5 377.0,130.5 377.2,130.4 377.5,130.4 377.8,130.3 378.0,130.3 378.2,130.2 378.5,130.2 378.8,130.1 379.0,130.1 379.2,130.0 379.5,130.0 379.8,129.9 380.0,129.9 380.2,129.9 380.5,129.8 380.8,129.8 381.0,129.7 381.2,129.7 381.5,129.7 381.8,129.6 382.0,129.6 382.2,129.5 382.5,129.5 382.8,129.5 383.0,129.4 383.2,129.4 383.5,129.3 383.8,129.3 384.0,129.3 384.2,129.2 384.5,129.2 384.8,129.1 385.0,129.1 385.2,129.1 385.5,129.0 385.8,129.0 386.0,128.9 386.2,128.9 386.5,128.9 386.8,128.8 387.0,128.8 387.2,128.8 387.5,128.7 387.8,128.7 388.0,128.6 388.2,128.6 388.5,128.6 388.8,128.5 389.0,128.5 389.2,128.5 389.5,128.4 389.8,128.4 390.0,128.4 390.2,128.3 390.5,128.3 390.8,128.3 391.0,128.3 391.2,128.2 391.5,128.2 391.8,128.2 392.0,128.2 392.2,128.1 392.5,128.1 392.8,128.1 393.0,128.0 393.2,128.0 393.5,128.0 393.8,127.9 394.0,127.9 394.2,127.9 394.5,127.8 394.8,127.8 395.0,127.7 395.2,127.7 395.5,127.6 395.8,127.6 396.0,127.5 396.2,127.5 396.5,127.4 396.8,127.4 397.0,127.3 397.2,127.2 397.5,127.0 397.8,126.9 398.0,126.7 398.2,126.6 398.5,126.4 398.8,126.2 399.0,126.0 399.2,125.8 399.5,125.6 399.8,125.5 400.0,125.3 400.2,125.1 400.5,125.0 400.8,124.9 401.0,124.8 401.2,124.6 401.5,124.5 401.8,124.4 402.0,124.2 402.2,124.1 402.5,124.0 402.8,123.8 403.0,123.7 403.2,123.6 403.5,123.5 403.8,123.4 404.0,123.3 404.2,123.2 404.5,123.2 404.8,123.1 405.0,123.1 405.2,123.1 405.5,123.1 405.8,123.1 406.0,123.2 406.2,123.3 406.5,123.3 406.8,123.4 407.0,123.5 407.2,123.7 407.5,123.8 407.8,123.9 408.0,124.0 408.2,124.2 408.5,124.3 408.8,124.4 409.0,124.6 409.2,124.7 409.5,124.8 409.8,124.9 410.0,125.0 410.2,125.1 410.5,125.2 410.8,125.3 411.0,125.4 411.2,125.5 411.5,125.6 411.8,125.7 412.0,125.8 412.2,125.9 412.5,125.9 412.8,126.0 413.0,126.1 413.2,126.1 413.5,126.2 413.8,126.2 414.0,126.2 414.2,126.2 414.5,126.1 414.8,126.0 415.0,125.9 415.2,125.7 415.5,125.6 415.8,125.4 416.0,125.2 416.2,125.1 416.5,124.9 416.8,124.7 417.0,124.6 417.2,124.4 417.5,124.2 417.8,124.0 418.0,123.8 418.2,123.6 418.5,123.3 418.8,123.1 419.0,122.9 419.2,122.7 419.5,122.4 419.8,122.2 420.0,122.0 420.2,121.8 420.5,121.5 420.8,121.3 421.0,121.1 421.2,120.9 421.5,120.7 421.8,120.5 422.0,120.4 422.2,120.2 422.5,120.0 422.8,119.9 423.0,119.7 423.2,119.6 423.5,119.4 423.8,119.2 424.0,119.1 424.2,118.9 424.5,118.7 424.8,118.5 425.0,118.3 425.2,118.1 425.5,117.9 425.8,117.6 426.0,117.4 426.2,117.1 426.5,116.8 426.8,116.5 427.0,116.2 427.2,115.9 427.5,115.5 427.8,115.1 428.0,114.7 428.2,114.3 428.5,113.8 428.8,113.3 429.0,112.7 429.2,112.1 429.5,111.4 429.8,110.6 430.0,109.6 430.2,108.5 430.5,107.2 430.8,105.9 431.0,104.5 431.2,102.9 431.5,101.0 431.8,99.0 432.0,96.8 432.2,94.6 432.5,92.2 432.8,89.8 433.0,87.2 433.2,84.5 433.5,81.8 433.8,78.8 434.0,75.8 434.2,72.6 434.5,69.4 434.8,65.9 435.0,62.5 435.2,59.0 435.5,55.7 435.8,52.4 436.0,49.2 436.2,46.0 436.5,43.0 436.8,40.0 437.0,37.0 437.2,34.1 437.5,31.7 437.8,30.0 438.0,28.3 438.2,27.0 438.5,26.5 438.8,27.0 439.0,28.3 439.2,30.0 439.5,31.7 439.8,33.6 440.0,35.8 440.2,38.5 440.5,41.8 440.8,46.6 441.0,52.7 441.2,58.9 441.5,67.9 441.8,80.3 442.0,90.9 442.2,98.1 442.5,104.2 442.8,109.7 443.0,114.7 443.2,119.4 443.5,123.0 443.8,125.4 444.0,127.3 444.2,128.8 444.5,130.0 444.8,131.0 445.0,131.8 445.2,132.6 445.5,133.3 445.8,133.8 446.0,134.3 446.2,134.5 446.5,134.8 446.8,135.0 447.0,135.2 447.2,135.3 447.5,135.5 447.8,135.6 448.0,135.8 448.2,135.9 448.5,136.0 448.8,136.1 449.0,136.2 449.2,136.2 449.5,136.3 449.8,136.4 450.0,136.4 450.2,136.4 450.5,136.5 450.8,136.5 451.0,136.6 451.2,136.6 451.5,136.6 451.8,136.7 452.0,136.7 452.2,136.7 452.5,136.8 452.8,136.8 453.0,136.8 453.2,136.9 453.5,136.9 453.8,136.9 454.0,136.9 454.2,137.0 454.5,137.0 454.8,137.0 455.0,137.0 455.2,137.1 455.5,137.1 455.8,137.1 456.0,137.1 456.2,137.1 456.5,137.1 456.8,137.2 457.0,137.2 457.2,137.2 457.5,137.2 457.8,137.2 458.0,137.2 458.2,137.2 458.5,137.3 458.8,137.3 459.0,137.3 459.2,137.3 459.5,137.3 459.8,137.3 460.0,137.3 460.2,137.3 460.5,137.3 460.8,137.3 461.0,137.3 461.2,137.3 461.5,137.3 461.8,137.3 462.0,137.3 462.2,137.3 462.5,137.4 462.8,137.4 463.0,137.4 463.2,137.4 463.5,137.4 463.8,137.4 464.0,137.4 464.2,137.4 464.5,137.4 464.8,137.4 465.0,137.4 465.2,137.4 465.5,137.4 465.8,137.4 466.0,137.4 466.2,137.4 466.5,137.4 466.8,137.4 467.0,137.4 467.2,137.4 467.5,137.5 467.8,137.5 468.0,137.5 468.2,137.5 468.5,137.5 468.8,137.5 469.0,137.5 469.2,137.5 469.5,137.5 469.8,137.5 470.0,137.5 470.2,137.5 470.5,137.5 470.8,137.5 471.0,137.5 471.2,137.5 471.5,137.5 471.8,137.5 472.0,137.5 472.2,137.5 472.5,137.5 472.8,137.5 473.0,137.5 473.2,137.5 473.5,137.6 473.8,137.6 474.0,137.6 474.2,137.6 474.5,137.6 474.8,137.6 475.0,137.6 475.2,137.6 475.5,137.6 475.8,137.6 476.0,137.6 476.2,137.6 476.5,137.6 476.8,137.6 477.0,137.6 477.2,137.6 477.5,137.6 477.8,137.6 478.0,137.6 478.2,137.6 478.5,137.6 478.8,137.6 479.0,137.6 479.2,137.6 479.5,137.6 479.8,137.6 480.0,137.6 480.2,137.6 480.5,137.6 480.8,137.6 481.0,137.7 481.2,137.7 481.5,137.7 481.8,137.7 482.0,137.7 482.2,137.7 482.5,137.7 482.8,137.7 483.0,137.7 483.2,137.7 483.5,137.7 483.8,137.7 484.0,137.7 484.2,137.7 484.5,137.7 484.8,137.7 485.0,137.7 485.2,137.7 485.5,137.7 485.8,137.7 486.0,137.7 486.2,137.7 486.5,137.7 486.8,137.7 487.0,137.7 487.2,137.7 487.5,137.7 487.8,137.7 488.0,137.7 488.2,137.7 488.5,137.7 488.8,137.7 489.0,137.7 489.2,137.7 489.5,137.7 489.8,137.7 490.0,137.7 490.2,137.7 490.5,137.7 490.8,137.7 491.0,137.7 491.2,137.7 491.5,137.7 491.8,137.7 492.0,137.7 492.2,137.7 492.5,137.8 492.8,137.8 493.0,137.8 493.2,137.8 493.5,137.8 493.8,137.8 494.0,137.8 494.2,137.8 494.5,137.8 494.8,137.8 495.0,137.8 495.2,137.8 495.5,137.8 495.8,137.8 496.0,137.8 496.2,137.8 496.5,137.8 496.8,137.8 497.0,137.8 497.2,137.8 497.5,137.8 497.8,137.8 498.0,137.8 498.2,137.8 498.5,137.8 498.8,137.8 499.0,137.8 499.2,137.8 499.5,137.8 499.8,137.8 500.0,137.8 500.2,137.8 500.5,137.8 500.8,137.8 501.0,137.8 501.2,137.8 501.5,137.8 501.8,137.8 502.0,137.8 502.2,137.8 502.5,137.8 502.8,137.8 503.0,137.8 503.2,137.8 503.5,137.8 503.8,137.8 504.0,137.8 504.2,137.8 504.5,137.8 504.8,137.8 505.0,137.8 505.2,137.8 505.5,137.8 505.8,137.8 506.0,137.8 506.2,137.8 506.5,137.8 506.8,137.8 507.0,137.8 507.2,137.8 507.5,137.8 507.8,137.8 508.0,137.8 508.2,137.8 508.5,137.8" fill="none" stroke="#000" stroke-width="0.9" stroke-linejoin="round" stroke-dasharray="1.2,3"/>
<text x="444.2" y="90.5" font-size="11" text-anchor="start" fill="#14B850" stroke="#14B850" stroke-width="0.3" >C = C</text>
<text x="445.3" y="111.0" font-size="11" text-anchor="start" fill="#FF4040" stroke="#FF4040" stroke-width="0.3" >C - C</text>
<text x="449.0" y="129.8" font-size="11" text-anchor="start" fill="#1E7BFF" stroke="#1E7BFF" stroke-width="0.3" >C - O / C - N</text>
<text x="383.0" y="118.6" font-size="11" text-anchor="start" fill="#00D2D2" stroke="#00D2D2" stroke-width="0.3" >- COOH</text>
<text x="367.0" y="127.6" font-size="10" text-anchor="start" fill="#FF44FF" stroke="#FF44FF" stroke-width="0.3" >π - π*</text>
<rect x="28.7" y="188.4" width="212.9" height="144.2" fill="none" stroke="#000" stroke-width="1.6"/>
<line x1="28.4" y1="332.6" x2="28.4" y2="335.2" stroke="#000" stroke-width="1.0"/>
<text x="28.8" y="345.7" font-size="9.9" text-anchor="middle" fill="#000" stroke="#000" stroke-width="0.3" letter-spacing="0.7">544</text>
<line x1="49.7" y1="332.6" x2="49.7" y2="335.2" stroke="#000" stroke-width="1.0"/>
<line x1="71.0" y1="332.6" x2="71.0" y2="335.2" stroke="#000" stroke-width="1.0"/>
<text x="71.4" y="345.7" font-size="9.9" text-anchor="middle" fill="#000" stroke="#000" stroke-width="0.3" letter-spacing="0.7">540</text>
<line x1="92.4" y1="332.6" x2="92.4" y2="335.2" stroke="#000" stroke-width="1.0"/>
<line x1="113.7" y1="332.6" x2="113.7" y2="335.2" stroke="#000" stroke-width="1.0"/>
<text x="114.0" y="345.7" font-size="9.9" text-anchor="middle" fill="#000" stroke="#000" stroke-width="0.3" letter-spacing="0.7">536</text>
<line x1="135.0" y1="332.6" x2="135.0" y2="335.2" stroke="#000" stroke-width="1.0"/>
<line x1="156.3" y1="332.6" x2="156.3" y2="335.2" stroke="#000" stroke-width="1.0"/>
<text x="156.7" y="345.7" font-size="9.9" text-anchor="middle" fill="#000" stroke="#000" stroke-width="0.3" letter-spacing="0.7">532</text>
<line x1="177.6" y1="332.6" x2="177.6" y2="335.2" stroke="#000" stroke-width="1.0"/>
<line x1="199.0" y1="332.6" x2="199.0" y2="335.2" stroke="#000" stroke-width="1.0"/>
<text x="199.3" y="345.7" font-size="9.9" text-anchor="middle" fill="#000" stroke="#000" stroke-width="0.3" letter-spacing="0.7">528</text>
<line x1="220.3" y1="332.6" x2="220.3" y2="335.2" stroke="#000" stroke-width="1.0"/>
<line x1="241.6" y1="332.6" x2="241.6" y2="335.2" stroke="#000" stroke-width="1.0"/>
<text x="241.9" y="345.7" font-size="9.9" text-anchor="middle" fill="#000" stroke="#000" stroke-width="0.3" letter-spacing="0.7">524</text>
<line x1="26.7" y1="225.4" x2="28.7" y2="225.4" stroke="#000" stroke-width="1.0"/>
<line x1="26.7" y1="272.8" x2="28.7" y2="272.8" stroke="#000" stroke-width="1.0"/>
<line x1="26.7" y1="320.5" x2="28.7" y2="320.5" stroke="#000" stroke-width="1.0"/>
<text x="7.3" y="191.9" font-size="11.5" text-anchor="start" fill="#000" stroke="#000" stroke-width="0.3" >c</text>
<text x="36.3" y="201.3" font-size="10.5" text-anchor="start" fill="#000" stroke="#000" stroke-width="0.3" >O 1s</text>
<text transform="translate(14.2,260.5) rotate(-90)" font-size="10.5" text-anchor="middle" fill="#000" stroke="#000" stroke-width="0.3" >Intensity ( a.u. )</text>
<text x="136.1" y="360.6" font-size="11" text-anchor="middle" fill="#000" stroke="#000" stroke-width="0.3" letter-spacing="0.2">Binding energy ( eV )</text>
<path d="M43.8,309.7 44.2,310.7 44.6,308.7 45.0,310.4 45.4,309.3 45.8,309.3 46.2,311.2 46.6,309.6 47.0,309.4 47.4,310.1 47.8,310.5 48.2,309.4 48.6,309.9 49.0,308.5 49.4,309.1 49.8,309.0 50.2,308.2 50.6,308.0 51.0,307.9 51.4,309.1 51.8,309.1 52.2,309.0 52.6,309.3 53.0,308.1 53.4,309.2 53.8,309.4 54.2,309.9 54.6,308.4 55.0,308.8 55.4,307.4 55.8,308.7 56.2,307.2 56.6,307.9 57.0,310.1 57.4,307.1 57.8,309.8 58.2,309.4 58.6,308.8 59.0,309.5 59.4,309.5 59.8,310.0 60.2,308.8 60.6,308.5 61.0,308.5 61.4,308.1 61.8,308.9 62.2,308.3 62.6,309.9 63.0,307.3 63.4,307.9 63.8,308.1 64.2,307.0 64.6,310.6 65.0,306.7 65.4,308.6 65.8,308.4 66.2,310.3 66.6,307.0 67.0,309.8 67.4,308.1 67.8,308.7 68.2,308.2 68.6,309.3 69.0,307.7 69.4,308.7 69.8,309.1 70.2,310.4 70.6,306.5 71.0,310.1 71.4,309.5 71.8,308.2 72.2,308.9 72.6,308.2 73.0,310.1 73.4,308.8 73.8,308.4 74.2,308.4 74.6,308.4 75.0,308.4 75.4,307.8 75.8,310.4 76.2,306.8 76.6,305.3 77.0,308.4 77.4,308.4 77.8,308.8 78.2,308.3 78.6,308.3 79.0,308.8 79.4,309.3 79.8,308.0 80.2,308.1 80.6,310.2 81.0,308.9 81.4,307.5 81.8,310.5 82.2,309.1 82.6,307.8 83.0,307.3 83.4,308.6 83.8,307.5 84.2,307.3 84.6,307.1 85.0,307.8 85.4,309.2 85.8,307.8 86.2,306.9 86.6,308.8 87.0,308.2 87.4,308.9 87.8,309.2 88.2,307.9 88.6,307.9 89.0,308.0 89.4,307.0 89.8,308.6 90.2,309.2 90.6,308.1 91.0,307.7 91.4,307.7 91.8,307.2 92.2,307.1 92.6,307.5 93.0,307.0 93.4,307.4 93.8,306.3 94.2,308.0 94.6,307.7 95.0,306.6 95.4,305.6 95.8,307.6 96.2,308.6 96.6,306.9 97.0,307.1 97.4,307.0 97.8,308.0 98.2,306.6 98.6,308.3 99.0,307.1 99.4,308.1 99.8,307.3 100.2,307.0 100.6,305.9 101.0,306.5 101.4,306.9 101.8,307.6 102.2,307.2 102.6,306.2 103.0,307.2 103.4,307.6 103.8,306.4 104.2,306.1 104.6,306.0 105.0,307.0 105.4,306.6 105.8,305.1 106.2,306.2 106.6,305.2 107.0,304.9 107.4,306.5 107.8,306.0 108.2,304.4 108.6,305.0 109.0,305.2 109.4,304.0 109.8,304.3 110.2,304.8 110.6,302.4 111.0,304.2 111.4,304.3 111.8,304.0 112.2,302.1 112.6,303.4 113.0,302.2 113.4,303.3 113.8,303.1 114.2,302.6 114.6,301.6 115.0,301.5 115.4,302.7 115.8,300.9 116.2,302.0 116.6,301.8 117.0,300.9 117.4,303.1 117.8,300.8 118.2,302.5 118.6,298.5 119.0,298.0 119.4,300.7 119.8,300.1 120.2,299.0 120.6,298.9 121.0,297.0 121.4,297.8 121.8,297.1 122.2,297.4 122.6,298.1 123.0,296.9 123.4,296.7 123.8,295.2 124.2,294.8 124.6,294.6 125.0,293.5 125.4,294.0 125.8,291.1 126.2,292.6 126.6,288.9 127.0,289.6 127.4,286.8 127.8,287.6 128.2,284.7 128.6,283.0 129.0,281.2 129.4,277.6 129.8,274.9 130.2,271.6 130.6,272.2 131.0,267.9 131.4,265.4 131.8,263.1 132.2,262.2 132.6,256.2 133.0,255.4 133.4,252.4 133.8,250.8 134.2,246.4 134.6,245.4 135.0,244.3 135.4,242.7 135.8,240.5 136.2,236.0 136.6,234.5 137.0,232.2 137.4,228.9 137.8,226.7 138.2,225.1 138.6,224.3 139.0,221.3 139.4,218.5 139.8,217.1 140.2,215.7 140.6,213.7 141.0,213.8 141.4,213.0 141.8,212.5 142.2,209.4 142.6,210.6 143.0,210.3 143.4,207.4 143.8,208.9 144.2,209.6 144.6,206.7 145.0,206.1 145.4,208.5 145.8,208.0 146.2,209.0 146.6,208.2 147.0,207.5 147.4,208.6 147.8,209.3 148.2,207.5 148.6,206.5 149.0,209.6 149.4,209.8 149.8,205.6 150.2,206.1 150.6,206.3 151.0,209.2 151.4,208.1 151.8,207.7 152.2,208.4 152.6,207.5 153.0,208.4 153.4,209.9 153.8,205.6 154.2,207.3 154.6,207.5 155.0,206.1 155.4,207.0 155.8,204.4 156.2,208.1 156.6,206.6 157.0,208.5 157.4,209.7 157.8,206.7 158.2,209.6 158.6,210.2 159.0,210.5 159.4,210.5 159.8,211.3 160.2,211.5 160.6,213.8 161.0,217.2 161.4,218.4 161.8,222.2 163.4,225.1 163.8,225.8 164.2,227.3 164.6,231.6 165.0,234.0 165.4,236.9 165.8,239.2 166.2,242.5 166.6,243.6 167.0,247.1 167.4,248.2 167.8,249.4 168.2,253.4 168.6,257.4 169.0,256.7 169.4,261.2 169.8,261.7 170.2,263.9 170.6,266.2 171.0,268.3 171.4,269.1 171.8,272.0 172.2,274.3 172.6,276.6 173.0,277.2 173.4,281.3 173.8,283.7 174.2,286.1 174.6,284.7 175.0,287.9 175.4,287.7 175.8,291.3 176.2,293.0 176.6,292.9 177.0,293.9 177.4,296.9 177.8,298.6 178.2,298.5 178.6,300.2 179.0,299.3 179.4,302.0 179.8,303.8 180.2,304.7 180.6,306.8 181.0,305.2 181.4,305.0 181.8,308.2 182.2,307.9 182.6,309.4 183.0,310.5 183.4,311.0 183.8,312.4 184.2,312.8 184.6,310.7 185.0,312.6 185.4,314.9 185.8,313.1 186.2,314.8 186.6,314.2 187.0,314.2 187.4,316.4 187.8,316.2 188.2,315.4 188.6,316.7 189.0,315.0 189.4,315.8 189.8,317.5 190.2,317.0 190.6,316.3 191.0,317.9 190.2,318.0 190.6,319.0 191.0,318.9 191.4,318.0 191.8,318.0 192.2,318.4 192.6,318.5 193.0,320.1 193.4,320.4 193.8,320.3 194.2,319.6 194.6,319.1 195.0,320.3 195.4,319.3 195.8,319.9 196.2,318.3 196.6,319.5 197.0,321.3 197.4,319.1 197.8,318.8 198.2,320.1 198.6,321.8 199.0,321.6 199.4,320.0 199.8,320.0 200.2,320.3 200.6,319.6 201.0,320.5 201.4,320.2 201.8,319.2 202.2,320.0 202.6,320.3 203.0,319.8 203.4,319.6 203.8,321.4 204.2,322.3 204.6,320.4 205.0,320.2 205.4,321.1 205.8,320.5 206.2,320.0 206.6,321.9 207.0,319.8 207.4,320.1 207.8,320.1 208.2,320.0 208.6,320.5 209.0,321.3 209.4,322.1 209.8,321.4 210.2,320.8 210.6,319.7 211.0,320.8 211.4,320.0 211.8,320.8 212.2,321.8 212.6,321.1 213.0,320.7 213.4,320.2 213.8,320.9 214.2,321.0 214.6,320.1 215.0,320.5 215.4,321.8 215.8,319.5 216.2,320.6 216.6,319.9 217.0,322.4 217.4,321.6 217.8,321.5 218.2,321.4 218.6,321.3 219.0,321.3 219.4,319.6 219.8,321.3 220.2,321.6 220.6,319.8 221.0,321.8 221.4,321.7 221.8,319.7 222.2,320.7 222.6,320.8 223.0,320.6 223.4,321.5 223.8,320.0 224.2,320.9 224.6,321.3 225.0,321.8 225.4,321.2 225.8,320.9 226.2,321.8 226.6,319.4 227.0,322.0 227.4,320.9 227.8,320.0 228.2,320.8 228.6,319.5 229.0,319.3 229.4,320.9 229.8,320.5 230.2,321.8 230.6,320.4 231.0,320.0 231.4,320.3 231.8,322.7 232.2,321.2 232.6,320.6 233.0,320.3 233.4,320.2 233.8,321.0 234.2,321.6 234.6,322.2 235.0,322.2 235.4,321.4" fill="none" stroke="#8C8C8C" stroke-width="1.3" stroke-linejoin="round" />
<path d="M43.8,309.6 44.3,309.6 44.8,309.6 45.3,309.6 45.8,309.6 46.3,309.6 46.8,309.5 47.3,309.5 47.8,309.5 48.3,309.5 48.8,309.5 49.3,309.5 49.8,309.5 50.3,309.5 50.8,309.5 51.3,309.5 51.8,309.5 52.3,309.5 52.8,309.5 53.3,309.5 53.8,309.5 54.3,309.5 54.8,309.4 55.3,309.4 55.8,309.4 56.3,309.4 56.8,309.4 57.3,309.4 57.8,309.4 58.3,309.4 58.8,309.4 59.3,309.4 59.8,309.4 60.3,309.4 60.8,309.4 61.3,309.4 61.8,309.4 62.3,309.4 62.8,309.4 63.3,309.4 63.8,309.4 64.3,309.4 64.8,309.4 65.3,309.4 65.8,309.4 66.3,309.4 66.8,309.4 67.3,309.4 67.8,309.4 68.3,309.4 68.8,309.3 69.3,309.3 69.8,309.3 70.3,309.3 70.8,309.3 71.3,309.3 71.8,309.3 72.3,309.3 72.8,309.3 73.3,309.3 73.8,309.3 74.3,309.3 74.8,309.3 75.3,309.3 75.8,309.3 76.3,309.3 76.8,309.3 77.3,309.3 77.8,309.3 78.3,309.3 78.8,309.3 79.3,309.3 79.8,309.3 80.3,309.3 80.8,309.3 81.3,309.3 81.8,309.3 82.3,309.3 82.8,309.3 83.3,309.3 83.8,309.3 84.3,309.3 84.8,309.3 85.3,309.3 85.8,309.3 86.3,309.3 86.8,309.3 87.3,309.3 87.8,309.3 88.3,309.3 88.8,309.3 89.3,309.3 89.8,309.3 90.3,309.3 90.8,309.3 91.3,309.3 91.8,309.3 92.3,309.3 92.8,309.3 93.3,309.3 93.8,309.3 94.3,309.3 94.8,309.3 95.3,309.3 95.8,309.3 96.3,309.3 96.8,309.3 97.3,309.3 97.8,309.3 98.3,309.3 98.8,309.3 99.3,309.3 99.8,309.3 100.3,309.3 100.8,309.3 101.3,309.3 101.8,309.3 102.3,309.3 102.8,309.3 103.3,309.3 103.8,309.3 104.3,309.3 104.8,309.3 105.3,309.3 105.8,309.3 106.3,309.3 106.8,309.4 107.3,309.4 107.8,309.4 108.3,309.4 108.8,309.4 109.3,309.4 109.8,309.4 110.3,309.4 110.8,309.4 111.3,309.5 111.8,309.5 112.3,309.5 112.8,309.5 113.3,309.5 113.8,309.5 114.3,309.5 114.8,309.6 115.3,309.6 115.8,309.6 116.3,309.6 116.8,309.6 117.3,309.7 117.8,309.7 118.3,309.7 118.8,309.7 119.3,309.7 119.8,309.8 120.3,309.8 120.8,309.8 121.3,309.8 121.8,309.9 122.3,309.9 122.8,309.9 123.3,309.9 123.8,310.0 124.3,310.0 124.8,310.0 125.3,310.1 125.8,310.1 126.3,310.1 126.8,310.1 127.3,310.2 127.8,310.2 128.3,310.3 128.8,310.3 129.3,310.4 129.8,310.5 130.3,310.6 130.8,310.7 131.3,310.8 131.8,310.9 132.3,311.0 132.8,311.2 133.3,311.3 133.8,311.4 134.3,311.6 134.8,311.7 135.3,311.8 135.8,312.0 136.3,312.1 136.8,312.2 137.3,312.3 137.8,312.5 138.3,312.6 138.8,312.7 139.3,312.9 139.8,313.0 140.3,313.2 140.8,313.3 141.3,313.5 141.8,313.6 142.3,313.8 142.8,313.9 143.3,314.1 143.8,314.2 144.3,314.4 144.8,314.5 145.3,314.7 145.8,314.8 146.3,315.0 146.8,315.1 147.3,315.3 147.8,315.5 148.3,315.6 148.8,315.8 149.3,316.0 149.8,316.1 150.3,316.3 150.8,316.5 151.3,316.6 151.8,316.8 152.3,317.0 152.8,317.1 153.3,317.3 153.8,317.4 154.3,317.6 154.8,317.7 155.3,317.9 155.8,318.0 156.3,318.2 156.8,318.3 157.3,318.5 157.8,318.6 158.3,318.8 158.8,319.0 159.3,319.1 159.8,319.2 160.3,319.4 160.8,319.5 161.3,319.7 161.8,319.8 162.3,319.9 162.8,320.0 163.3,320.2 163.8,320.3 164.3,320.4 164.8,320.5 165.3,320.5 165.8,320.6 166.3,320.7 166.8,320.8 167.3,320.9 167.8,321.0 168.3,321.1 168.8,321.1 169.3,321.2 169.8,321.3 170.3,321.3 170.8,321.4 171.3,321.5 171.8,321.5 172.3,321.5 172.8,321.6 173.3,321.6 173.8,321.7 174.3,321.7 174.8,321.7 175.3,321.7 175.8,321.8 176.3,321.8 176.8,321.8 177.3,321.8 177.8,321.9 178.3,321.9 178.8,321.9 179.3,321.9 179.8,321.9 180.3,322.0 180.8,322.0 181.3,322.0 181.8,322.0 182.3,322.0 182.8,322.0 183.3,322.0 183.8,322.0 184.3,322.0 184.8,322.0 185.3,322.0 185.8,322.0 186.3,322.0 186.8,322.0 187.3,322.0 187.8,322.0 188.3,322.0 188.8,322.0 189.3,322.0 189.8,322.0 190.3,322.0 190.8,322.0 191.3,322.0 191.8,322.0 192.3,322.0 192.8,322.0 193.3,322.0 193.8,322.0 194.3,322.0 194.8,322.0 195.3,322.0 195.8,322.0 196.3,322.0 196.8,322.0 197.3,322.0 197.8,322.0 198.3,322.0 198.8,322.0 199.3,322.0 199.8,322.0 200.3,322.0 200.8,322.0 201.3,322.0 201.8,322.0 202.3,322.0 202.8,322.0 203.3,322.0 203.8,322.0 204.3,322.0 204.8,322.0 205.3,322.0 205.8,322.0 206.3,322.0 206.8,322.0 207.3,322.0 207.8,322.0 208.3,322.0 208.8,322.0 209.3,322.0 209.8,322.0 210.3,322.0 210.8,322.0 211.3,322.0 211.8,322.0 212.3,322.0 212.8,322.0 213.3,322.0 213.8,322.0 214.3,322.0 214.8,322.0 215.3,322.0 215.8,322.0 216.3,322.0 216.8,321.9 217.3,321.9 217.8,321.9 218.3,321.9 218.8,321.9 219.3,321.9 219.8,321.9 220.3,321.9 220.8,321.9 221.3,321.9 221.8,321.9 222.3,321.9 222.8,321.9 223.3,321.9 223.8,321.9 224.3,321.9 224.8,321.9 225.3,321.9 225.8,321.9 226.3,321.9 226.8,321.9 227.3,321.9 227.8,321.9 228.3,321.9 228.8,321.9 229.3,321.9 229.8,321.9 230.3,321.9 230.8,321.9 231.3,321.8 231.8,321.8 232.3,321.8 232.8,321.8 233.3,321.8 233.8,321.8 234.3,321.8 234.8,321.8 235.3,321.8" fill="none" stroke="#B8B000" stroke-width="1.3" stroke-linejoin="round" />
<path d="M70.3,309.3 70.8,309.3 71.3,309.3 71.8,309.3 72.3,309.3 72.8,309.3 73.3,309.3 73.8,309.3 74.3,309.3 74.8,309.3 75.3,309.3 75.8,309.3 76.3,309.3 76.8,309.3 77.3,309.3 77.8,309.3 78.3,309.3 78.8,309.2 79.3,309.2 79.8,309.2 80.3,309.2 80.8,309.2 81.3,309.2 81.8,309.2 82.3,309.2 82.8,309.2 83.3,309.2 83.8,309.2 84.3,309.1 84.8,309.1 85.3,309.1 85.8,309.1 86.3,309.1 86.8,309.1 87.3,309.1 87.8,309.0 88.3,309.0 88.8,309.0 89.3,309.0 89.8,309.0 90.3,308.9 90.8,308.9 91.3,308.9 91.8,308.8 92.3,308.8 92.8,308.8 93.3,308.8 93.8,308.7 94.3,308.7 94.8,308.6 95.3,308.6 95.8,308.5 96.3,308.5 96.8,308.5 97.3,308.4 97.8,308.3 98.3,308.3 98.8,308.2 99.3,308.2 99.8,308.1 100.3,308.0 100.8,308.0 101.3,307.9 101.8,307.8 102.3,307.7 102.8,307.6 103.3,307.5 103.8,307.4 104.3,307.4 104.8,307.3 105.3,307.2 105.8,307.0 106.3,306.9 106.8,306.8 107.3,306.7 107.8,306.6 108.3,306.5 108.8,306.3 109.3,306.2 109.8,306.1 110.3,305.9 110.8,305.8 111.3,305.6 111.8,305.4 112.3,305.3 112.8,305.1 113.3,304.9 113.8,304.8 114.3,304.6 114.8,304.4 115.3,304.2 115.8,304.0 116.3,303.8 116.8,303.6 117.3,303.4 117.8,303.2 118.3,303.0 118.8,302.8 119.3,302.5 119.8,302.3 120.3,302.1 120.8,301.8 121.3,301.6 121.8,301.3 122.3,301.1 122.8,300.8 123.3,300.6 123.8,300.3 124.3,300.1 124.8,299.8 125.3,299.5 125.8,299.3 126.3,299.0 126.8,298.7 127.3,298.5 127.8,298.2 128.3,297.9 128.8,297.7 129.3,297.5 129.8,297.3 130.3,297.1 130.8,296.9 131.3,296.7 131.8,296.5 132.3,296.3 132.8,296.1 133.3,296.0 133.8,295.8 134.3,295.7 134.8,295.5 135.3,295.4 135.8,295.2 136.3,295.1 136.8,295.0 137.3,294.8 137.8,294.7 138.3,294.6 138.8,294.5 139.3,294.4 139.8,294.4 140.3,294.3 140.8,294.2 141.3,294.2 141.8,294.2 142.3,294.1 142.8,294.1 143.3,294.1 143.8,294.1 144.3,294.1 144.8,294.2 145.3,294.2 145.8,294.3 146.3,294.3 146.8,294.4 147.3,294.5 147.8,294.6 148.3,294.7 148.8,294.8 149.3,295.0 149.8,295.1 150.3,295.3 150.8,295.5 151.3,295.7 151.8,295.9 152.3,296.1 152.8,296.3 153.3,296.5 153.8,296.8 154.3,297.0 154.8,297.3 155.3,297.5 155.8,297.8 156.3,298.1 156.8,298.4 157.3,298.7 157.8,299.0 158.3,299.4 158.8,299.7 159.3,300.1 159.8,300.4 160.3,300.8 160.8,301.1 161.3,301.5 161.8,301.9 162.3,302.2 162.8,302.6 163.3,303.0 163.8,303.3 164.3,303.7 164.8,304.1 165.3,304.4 165.8,304.8 166.3,305.2 166.8,305.6 167.3,305.9 167.8,306.3 168.3,306.7 168.8,307.1 169.3,307.4 169.8,307.8 170.3,308.2 170.8,308.5 171.3,308.9 171.8,309.3 172.3,309.6 172.8,309.9 173.3,310.3 173.8,310.6 174.3,310.9 174.8,311.3 175.3,311.6 175.8,311.9 176.3,312.2 176.8,312.5 177.3,312.8 177.8,313.1 178.3,313.4 178.8,313.7 179.3,314.0 179.8,314.3 180.3,314.5 180.8,314.8 181.3,315.1 181.8,315.3 182.3,315.6 182.8,315.8 183.3,316.0 183.8,316.2 184.3,316.5 184.8,316.7 185.3,316.9 185.8,317.1 186.3,317.3 186.8,317.5 187.3,317.7 187.8,317.8 188.3,318.0 188.8,318.2 189.3,318.4 189.8,318.5 190.3,318.7 190.8,318.8 191.3,319.0 191.8,319.1 192.3,319.2 192.8,319.4 193.3,319.5 193.8,319.6 194.3,319.7 194.8,319.8 195.3,319.9 195.8,320.1 196.3,320.1 196.8,320.2 197.3,320.3 197.8,320.4 198.3,320.5 198.8,320.6 199.3,320.7 199.8,320.7 200.3,320.8 200.8,320.9 201.3,320.9 201.8,321.0 202.3,321.0 202.8,321.1 203.3,321.2 203.8,321.2 204.3,321.2 204.8,321.3" fill="none" stroke="#10B040" stroke-width="1.2" stroke-linejoin="round" />
<path d="M118.3,309.4 118.8,309.3 119.3,309.3 119.8,309.2 120.3,309.0 120.8,308.9 121.3,308.7 121.8,308.5 122.3,308.3 122.8,308.0 123.3,307.6 123.8,307.2 124.3,306.7 124.8,306.1 125.3,305.5 125.8,304.8 126.3,303.9 126.8,303.0 127.3,301.9 127.8,300.7 128.3,299.4 128.8,298.0 129.3,296.4 129.8,294.8 130.3,293.0 130.8,291.0 131.3,289.0 131.8,286.8 132.3,284.5 132.8,282.1 133.3,279.7 133.8,277.1 134.3,274.5 134.8,271.9 135.3,269.3 135.8,266.7 136.3,264.1 136.8,261.6 137.3,259.2 137.8,257.0 138.3,254.9 138.8,253.1 139.3,251.4 139.8,250.0 140.3,248.9 140.8,248.0 141.3,247.5 141.8,247.2 142.3,247.3 142.8,247.6 143.3,248.3 143.8,249.3 144.3,250.6 144.8,252.1 145.3,253.9 145.8,256.0 146.3,258.2 146.8,260.6 147.3,263.2 147.8,265.9 148.3,268.7 148.8,271.6 149.3,274.5 149.8,277.4 150.3,280.4 150.8,283.2 151.3,286.0 151.8,288.8 152.3,291.4 152.8,293.9 153.3,296.3 153.8,298.6 154.3,300.8 154.8,302.7 155.3,304.6 155.8,306.3 156.3,307.9 156.8,309.3 157.3,310.7 157.8,311.9 158.3,313.0 158.8,313.9 159.3,314.8 159.8,315.6 160.3,316.3 160.8,316.9 161.3,317.5 161.8,318.0 162.3,318.4 162.8,318.8 163.3,319.1 163.8,319.4 164.3,319.7 164.8,319.9 165.3,320.1 165.8,320.3 166.3,320.4 166.8,320.6 167.3,320.7 167.8,320.8 168.3,320.9 168.8,321.0 169.3,321.1 169.8,321.2" fill="none" stroke="#CC50F0" stroke-width="1.2" stroke-linejoin="round" />
<path d="M125.3,310.0 125.8,310.0 126.3,310.0 126.8,310.0 127.3,310.0 127.8,310.0 128.3,310.0 128.8,310.0 129.3,310.0 129.8,310.1 130.3,310.1 130.8,310.1 131.3,310.1 131.8,310.1 132.3,310.0 132.8,310.0 133.3,309.9 133.8,309.8 134.3,309.7 134.8,309.5 135.3,309.3 135.8,309.0 136.3,308.7 136.8,308.4 137.3,307.9 137.8,307.5 138.3,306.9 138.8,306.3 139.3,305.6 139.8,304.8 140.3,304.0 140.8,303.0 141.3,301.9 141.8,300.8 142.3,299.5 142.8,298.2 143.3,296.7 143.8,295.1 144.3,293.4 144.8,291.6 145.3,289.7 145.8,287.7 146.3,285.6 146.8,283.4 147.3,281.1 147.8,278.8 148.3,276.4 148.8,273.9 149.3,271.4 149.8,268.9 150.3,266.3 150.8,263.8 151.3,261.2 151.8,258.8 152.3,256.3 152.8,254.0 153.3,251.7 153.8,249.5 154.3,247.5 154.8,245.6 155.3,243.9 155.8,242.4 156.3,241.0 156.8,239.9 157.3,238.9 157.8,238.2 158.3,237.8 158.8,237.6 159.3,237.6 159.8,237.9 160.3,238.4 160.8,239.1 161.3,240.1 161.8,241.3 162.3,242.7 162.8,244.4 163.3,246.2 163.8,248.1 164.3,250.3 164.8,252.6 165.3,255.0 165.8,257.5 166.3,260.1 166.8,262.8 167.3,265.5 167.8,268.3 168.3,271.1 168.8,273.9 169.3,276.7 169.8,279.4 170.3,282.1 170.8,284.7 171.3,287.3 171.8,289.8 172.3,292.2 172.8,294.5 173.3,296.7 173.8,298.8 174.3,300.7 174.8,302.6 175.3,304.4 175.8,306.0 176.3,307.6 176.8,309.0 177.3,310.3 177.8,311.6 178.3,312.7 178.8,313.7 179.3,314.7 179.8,315.5 180.3,316.3 180.8,317.0 181.3,317.6 181.8,318.2 182.3,318.7 182.8,319.1 183.3,319.5 183.8,319.8 184.3,320.1 184.8,320.4 185.3,320.6 185.8,320.8 186.3,321.0 186.8,321.2 187.3,321.3 187.8,321.4 188.3,321.5 188.8,321.6 189.3,321.6 189.8,321.7 190.3,321.8 190.8,321.8 191.3,321.8 191.8,321.9 192.3,321.9 192.8,321.9 193.3,321.9 193.8,321.9 194.3,321.9 194.8,322.0" fill="none" stroke="#1E78FF" stroke-width="1.2" stroke-linejoin="round" />
<path d="M43.8,309.6 44.3,309.6 44.8,309.6 45.3,309.5 45.8,309.5 46.3,309.5 46.8,309.5 47.3,309.5 47.8,309.4 48.3,309.4 48.8,309.4 49.3,309.4 49.8,309.4 50.3,309.4 50.8,309.3 51.3,309.3 51.8,309.3 52.3,309.3 52.8,309.3 53.3,309.3 53.8,309.2 54.3,309.2 54.8,309.2 55.3,309.2 55.8,309.2 56.3,309.2 56.8,309.1 57.3,309.1 57.8,309.1 58.3,309.1 58.8,309.1 59.3,309.1 59.8,309.0 60.3,309.0 60.8,309.0 61.3,309.0 61.8,309.0 62.3,309.0 62.8,309.0 63.3,309.0 63.8,308.9 64.3,308.9 64.8,308.9 65.3,308.9 65.8,308.9 66.3,308.9 66.8,308.9 67.3,308.9 67.8,308.8 68.3,308.8 68.8,308.8 69.3,308.8 69.8,308.8 70.3,308.8 70.8,308.8 71.3,308.8 71.8,308.8 72.3,308.8 72.8,308.8 73.3,308.7 73.8,308.7 74.3,308.7 74.8,308.7 75.3,308.7 75.8,308.7 76.3,308.7 76.8,308.7 77.3,308.7 77.8,308.7 78.3,308.7 78.8,308.7 79.3,308.7 79.8,308.7 80.3,308.7 80.8,308.7 81.3,308.7 81.8,308.7 82.3,308.7 82.8,308.7 83.3,308.7 83.8,308.6 84.3,308.6 84.8,308.6 85.3,308.6 85.8,308.6 86.3,308.6 86.8,308.6 87.3,308.6 87.8,308.6 88.3,308.6 88.8,308.6 89.3,308.6 89.8,308.6 90.3,308.6 90.8,308.6 91.3,308.6 91.8,308.6 92.3,308.6 92.8,308.6 93.3,308.5 93.8,308.5 94.3,308.5 94.8,308.5 95.3,308.5 95.8,308.5 96.3,308.5 96.8,308.5 97.3,308.5 97.8,308.5 98.3,308.4 98.8,308.4 99.3,308.4 99.8,308.4 100.3,308.4 100.8,308.4 101.3,308.3 101.8,308.3 102.3,308.2 102.8,308.1 103.3,308.0 103.8,307.9 104.3,307.8 104.8,307.7 105.3,307.5 105.8,307.4 106.3,307.2 106.8,307.0 107.3,306.9 107.8,306.7 108.3,306.5 108.8,306.3 109.3,306.1 109.8,305.9 110.3,305.7 110.8,305.5 111.3,305.3 111.8,305.1 112.3,304.9 112.8,304.6 113.3,304.4 113.8,304.2 114.3,304.0 114.8,303.8 115.3,303.5 115.8,303.3 116.3,303.1 116.8,302.8 117.3,302.6 117.8,302.3 118.3,302.0 118.8,301.7 119.3,301.4 119.8,301.1 120.3,300.7 120.8,300.3 121.3,299.9 121.8,299.5 122.3,299.0 122.8,298.5 123.3,298.0 123.8,297.3 124.3,296.4 124.8,295.5 125.3,294.4 125.8,293.3 126.3,292.0 126.8,290.6 127.3,289.0 127.8,287.4 128.3,285.3 128.8,282.8 129.3,280.0 129.8,277.0 130.3,274.0 130.8,270.9 131.3,267.7 131.8,264.2 132.3,260.8 132.8,257.4 133.3,254.3 133.8,251.3 134.3,248.4 134.8,245.5 135.3,242.7 135.8,239.9 136.3,237.0 136.8,234.1 137.3,231.4 137.8,228.8 138.3,226.1 138.8,223.4 139.3,220.9 139.8,218.7 140.3,216.8 140.8,215.3 141.3,213.9 141.8,212.6 142.3,211.6 142.8,210.9 143.3,210.5 143.8,210.1 144.3,209.8 144.8,209.6 145.3,209.5 145.8,209.5 146.3,209.5 146.8,209.5 147.3,209.5 147.8,209.5 148.3,209.5 148.8,209.5 149.3,209.5 149.8,209.5 150.3,209.5 150.8,209.5 151.3,209.5 151.8,209.5 152.3,209.5 152.8,209.4 153.3,209.4 153.8,209.3 154.3,209.2 154.8,209.1 155.3,209.0 155.8,209.0 156.3,208.9 156.8,208.9 157.3,209.0 157.8,209.4 158.3,209.9 158.8,210.6 159.3,211.7 159.8,213.4 160.3,215.4 160.8,217.4 161.3,219.6 161.8,222.1 162.3,224.8 162.8,227.5 163.3,230.6 163.8,233.7 164.3,236.9 164.8,240.1 165.3,243.3 165.8,246.5 166.3,249.7 166.8,252.7 167.3,255.6 167.8,258.2 168.3,260.8 168.8,263.3 169.3,265.7 169.8,268.1 170.3,270.5 170.8,272.9 171.3,275.4 171.8,277.9 172.3,280.5 172.8,283.0 173.3,285.4 173.8,287.7 174.3,289.8 174.8,291.7 175.3,293.6 175.8,295.3 176.3,297.0 176.8,298.6 177.3,300.2 177.8,301.6 178.3,302.9 178.8,304.1 179.3,305.2 179.8,306.2 180.3,307.2 180.8,308.1 181.3,309.0 181.8,309.8 182.3,310.6 182.8,311.4 183.3,312.0 183.8,312.6 184.3,313.2 184.8,313.7 185.3,314.2 185.8,314.6 186.3,315.0 186.8,315.4 187.3,315.8 187.8,316.2 188.3,316.5 188.8,316.9 189.3,317.2 189.8,317.5 190.3,317.7 190.8,318.0 191.3,318.2 191.8,318.4 192.3,318.6 192.8,318.7 193.3,318.9 193.8,319.1 194.3,319.2 194.8,319.4 195.3,319.5 195.8,319.7 196.3,319.8 196.8,319.9 197.3,320.0 197.8,320.1 198.3,320.2 198.8,320.3 199.3,320.3 199.8,320.4 200.3,320.4 200.8,320.4 201.3,320.5 201.8,320.5 202.3,320.5 202.8,320.5 203.3,320.6 203.8,320.6 204.3,320.6 204.8,320.6 205.3,320.6 205.8,320.7 206.3,320.7 206.8,320.7 207.3,320.7 207.8,320.7 208.3,320.8 208.8,320.8 209.3,320.8 209.8,320.8 210.3,320.8 210.8,320.8 211.3,320.9 211.8,320.9 212.3,320.9 212.8,320.9 213.3,320.9 213.8,320.9 214.3,320.9 214.8,320.9 215.3,321.0 215.8,321.0 216.3,321.0 216.8,321.0 217.3,321.0 217.8,321.0 218.3,321.0 218.8,321.0 219.3,321.0 219.8,321.1 220.3,321.1 220.8,321.1 221.3,321.1 221.8,321.1 222.3,321.1 222.8,321.1 223.3,321.1 223.8,321.1 224.3,321.1 224.8,321.1 225.3,321.1 225.8,321.1 226.3,321.2 226.8,321.2 227.3,321.2 227.8,321.2 228.3,321.2 228.8,321.2 229.3,321.2 229.8,321.2 230.3,321.2 230.8,321.2 231.3,321.2 231.8,321.2 232.3,321.2 232.8,321.2 233.3,321.2 233.8,321.2 234.3,321.2 234.8,321.2 235.3,321.2" fill="none" stroke="#FF4848" stroke-width="1.2" stroke-linejoin="round" />
<text x="40.0" y="295.5" font-size="11" text-anchor="start" fill="#10B040" stroke="#10B040" stroke-width="0.3" >C - O - C / - OH</text>
<text x="86.0" y="271.5" font-size="11" text-anchor="start" fill="#D040F0" stroke="#D040F0" stroke-width="0.3" >- COOH</text>
<text x="177.0" y="279.0" font-size="11" text-anchor="start" fill="#1E78FF" stroke="#1E78FF" stroke-width="0.3" >C = O</text>
<rect x="309.4" y="188.5" width="208.4" height="147.0" fill="none" stroke="#000" stroke-width="1.6"/>
<line x1="321.0" y1="335.5" x2="321.0" y2="338.3" stroke="#000" stroke-width="1.0"/>
<text x="321.4" y="348.6" font-size="9.9" text-anchor="middle" fill="#000" stroke="#000" stroke-width="0.3" letter-spacing="0.8">410</text>
<line x1="349.0" y1="335.5" x2="349.0" y2="338.3" stroke="#000" stroke-width="1.0"/>
<line x1="377.0" y1="335.5" x2="377.0" y2="338.3" stroke="#000" stroke-width="1.0"/>
<text x="377.4" y="348.6" font-size="9.9" text-anchor="middle" fill="#000" stroke="#000" stroke-width="0.3" letter-spacing="0.8">405</text>
<line x1="405.1" y1="335.5" x2="405.1" y2="338.3" stroke="#000" stroke-width="1.0"/>
<line x1="433.1" y1="335.5" x2="433.1" y2="338.3" stroke="#000" stroke-width="1.0"/>
<text x="433.5" y="348.6" font-size="9.9" text-anchor="middle" fill="#000" stroke="#000" stroke-width="0.3" letter-spacing="0.8">400</text>
<line x1="461.1" y1="335.5" x2="461.1" y2="338.3" stroke="#000" stroke-width="1.0"/>
<line x1="489.1" y1="335.5" x2="489.1" y2="338.3" stroke="#000" stroke-width="1.0"/>
<text x="489.5" y="348.6" font-size="9.9" text-anchor="middle" fill="#000" stroke="#000" stroke-width="0.3" letter-spacing="0.8">395</text>
<text x="284.0" y="193.6" font-size="10.5" text-anchor="start" fill="#000" stroke="#000" stroke-width="0.3" >d</text>
<text x="317.0" y="203.2" font-size="11.6" text-anchor="start" fill="#000" stroke="#000" stroke-width="0.3" letter-spacing="0.4">N 1s</text>
<text transform="translate(291.2,262.0) rotate(-90)" font-size="10.5" text-anchor="middle" fill="#000" stroke="#000" stroke-width="0.3" >Intensity ( a.u. )</text>
<text x="411.0" y="360.6" font-size="11" text-anchor="middle" fill="#000" stroke="#000" stroke-width="0.3" letter-spacing="0.5">Binding energy ( eV )</text>
<path d="M310.0,258.4 310.6,276.8 311.3,283.9 311.9,266.6 312.6,257.2 313.2,271.8 313.9,278.0 314.5,285.2 315.2,258.6 315.8,257.8 316.5,280.8 317.1,278.1 317.8,290.3 318.4,284.0 319.1,271.6 319.7,269.6 320.4,302.4 321.0,269.5 321.7,263.8 322.3,259.8 323.0,274.0 323.6,274.6 324.3,269.0 324.9,272.3 325.6,276.2 326.2,281.0 326.9,285.7 327.5,275.5 328.2,252.6 328.8,281.3 329.5,256.9 330.1,271.3 330.8,256.3 331.4,273.4 332.1,264.4 332.7,275.9 333.4,307.4 334.0,272.9 334.7,283.2 335.3,258.3 336.0,270.2 336.6,281.2 337.3,272.5 337.9,277.9 338.6,274.8 339.2,262.1 339.9,280.2 340.5,264.3 341.2,295.2 341.8,267.8 342.5,281.5 343.1,273.6 343.8,284.4 344.4,266.5 345.1,284.8 345.7,271.7 346.4,287.4 347.0,279.8 347.7,274.0 348.3,263.0 349.0,280.4 349.6,276.4 350.3,289.3 350.9,265.4 351.6,275.3 352.2,273.9 352.9,270.3 353.5,268.4 354.2,266.8 354.8,256.5 355.5,250.3 356.1,255.8 356.8,265.5 357.4,274.4 358.1,266.4 358.7,265.4 359.4,260.3 360.0,257.5 360.7,249.7 361.3,254.6 362.0,264.3 362.6,238.4 363.3,232.6 363.9,261.7 364.6,240.7 365.2,248.0 365.9,246.1 366.5,222.4 367.2,263.1 367.8,255.5 368.5,237.3 369.1,244.4 369.8,237.9 370.4,227.2 371.1,237.2 371.7,244.2 372.4,254.2 373.0,251.3 373.7,245.6 374.3,262.4 375.0,240.0 375.6,259.9 376.3,265.6 376.9,251.4 377.6,236.2 378.2,248.2 378.9,263.2 379.5,268.3 380.2,281.7 380.8,253.8 381.5,266.8 382.1,275.5 382.8,267.3 383.4,242.9 384.1,280.3 384.7,298.3 385.4,283.9 386.0,262.3 386.7,268.5 387.3,276.1 388.0,302.3 388.6,280.9 389.3,275.1 389.9,291.6 390.6,272.6 391.2,294.7 391.9,265.1 392.5,267.1 393.2,280.4 393.8,287.9 394.5,278.5 395.1,273.8 395.8,248.7 396.4,260.7 397.1,261.1 397.7,261.2 398.4,273.2 399.0,261.7 399.7,273.6 400.3,264.5 401.0,258.7 401.6,262.9 402.3,265.3 402.9,269.1 403.6,252.6 404.2,254.3 404.9,240.1 405.5,273.0 406.2,270.0 406.8,249.9 407.5,245.2 408.1,235.2 408.8,250.1 409.4,249.2 410.1,270.5 410.7,247.0 411.4,233.8 412.0,213.3 412.7,256.3 413.3,240.9 414.0,218.9 414.6,238.1 415.3,216.3 415.9,267.5 416.6,245.1 417.2,237.7 417.9,227.9 418.5,204.3 419.2,226.4 419.8,209.1 420.5,232.9 421.1,200.7 421.8,214.2 422.4,238.1 423.1,242.6 423.7,209.8 424.4,205.5 425.0,233.2 425.7,232.9 426.3,212.0 427.0,215.6 427.6,216.1 428.3,210.9 428.9,217.5 429.6,240.5 430.2,234.9 430.9,251.6 431.5,228.1 432.2,228.7 432.8,220.2 433.5,231.4 434.1,219.0 434.8,215.1 435.4,244.9 436.1,254.8 436.7,249.3 437.4,256.4 438.0,245.3 438.7,235.5 439.3,246.1 440.0,242.1 440.6,234.8 441.3,229.4 441.9,233.0 442.6,251.1 443.2,254.0 443.9,247.9 444.5,270.8 445.2,257.5 445.8,263.1 446.5,271.4 447.1,249.0 447.8,236.7 448.4,269.0 449.1,253.4 449.7,277.3 450.4,267.1 451.0,275.8 451.7,274.0 452.3,242.2 453.0,275.4 453.6,260.4 454.3,260.4 454.9,265.1 455.6,279.9 456.2,282.2 456.9,284.7 457.5,254.9 458.2,268.2 458.8,248.6 459.5,275.6 460.1,284.6 460.8,269.8 461.4,282.3 462.1,282.9 462.7,292.6 463.4,272.4 464.0,273.0 464.7,274.5 465.3,304.1 466.0,297.1 466.6,283.7 467.3,288.3 467.9,287.6 468.6,289.1 469.2,284.8 469.9,283.8 470.5,273.6 471.2,281.1 471.8,307.8 472.5,295.4 473.1,290.2 473.8,287.3 474.4,290.8 475.1,294.4 475.7,283.1 476.4,293.0 477.0,293.7 477.7,282.5 478.3,282.2 479.0,280.0 479.6,279.4 480.3,302.0 480.9,264.7 481.6,288.9 482.2,285.1 482.9,285.1 483.5,293.4 484.2,305.4 484.8,293.4 485.5,290.9 486.1,285.6 486.8,291.2 487.4,303.2 488.1,288.3 488.7,279.7 489.4,278.4 490.0,280.2 490.7,277.0 491.3,305.7 492.0,297.2 492.6,290.4 493.3,310.0 493.9,285.6 494.6,301.9 495.2,302.5 495.9,275.5 496.5,275.5 497.2,282.7 497.8,303.9 498.5,308.4 499.1,279.4 499.8,305.6 500.4,289.2 501.1,289.1 501.7,287.3 502.4,289.9 503.0,272.8 503.7,282.2 504.3,279.5 505.0,299.4 505.6,317.8 506.3,325.2 506.9,290.0 507.6,274.1 508.2,289.2 508.9,283.1 509.5,316.8 510.2,300.6 510.8,285.6 511.5,304.8 512.1,300.2 512.8,275.4 513.4,288.0 514.1,291.4 514.7,294.3 515.4,295.7 516.0,290.3 516.7,296.4 517.3,287.5" fill="none" stroke="#D4D4D4" stroke-width="0.7" stroke-linejoin="round" />
<path d="M310.0,272.4 310.5,272.4 311.0,272.5 311.5,272.5 312.0,272.5 312.5,272.5 313.0,272.5 313.5,272.5 314.0,272.6 314.5,272.6 315.0,272.6 315.5,272.6 316.0,272.6 316.5,272.6 317.0,272.7 317.5,272.7 318.0,272.7 318.5,272.7 319.0,272.7 319.5,272.8 320.0,272.8 320.5,272.8 321.0,272.8 321.5,272.8 322.0,272.9 322.5,272.9 323.0,272.9 323.5,272.9 324.0,273.0 324.5,273.0 325.0,273.0 325.5,273.0 326.0,273.1 326.5,273.1 327.0,273.1 327.5,273.1 328.0,273.2 328.5,273.2 329.0,273.2 329.5,273.2 330.0,273.3 330.5,273.3 331.0,273.3 331.5,273.3 332.0,273.4 332.5,273.4 333.0,273.4 333.5,273.4 334.0,273.5 334.5,273.5 335.0,273.5 335.5,273.5 336.0,273.6 336.5,273.6 337.0,273.6 337.5,273.7 338.0,273.7 338.5,273.7 339.0,273.7 339.5,273.8 340.0,273.8 340.5,273.8 341.0,273.9 341.5,273.9 342.0,273.9 342.5,273.9 343.0,274.0 343.5,274.0 344.0,274.0 344.5,274.1 345.0,274.1 345.5,274.1 346.0,274.2 346.5,274.2 347.0,274.2 347.5,274.3 348.0,274.3 348.5,274.3 349.0,274.4 349.5,274.4 350.0,274.4 350.5,274.5 351.0,274.5 351.5,274.5 352.0,274.6 352.5,274.6 353.0,274.6 353.5,274.7 354.0,274.7 354.5,274.8 355.0,274.8 355.5,274.8 356.0,274.9 356.5,274.9 357.0,275.0 357.5,275.0 358.0,275.0 358.5,275.1 359.0,275.1 359.5,275.2 360.0,275.2 360.5,275.3 361.0,275.3 361.5,275.4 362.0,275.4 362.5,275.5 363.0,275.5 363.5,275.6 364.0,275.6 364.5,275.7 365.0,275.8 365.5,275.9 366.0,275.9 366.5,276.0 367.0,276.1 367.5,276.2 368.0,276.3 368.5,276.4 369.0,276.5 369.5,276.6 370.0,276.7 370.5,276.8 371.0,276.9 371.5,277.0 372.0,277.1 372.5,277.2 373.0,277.3 373.5,277.3 374.0,277.4 374.5,277.5 375.0,277.5 375.5,277.6 376.0,277.7 376.5,277.7 377.0,277.7 377.5,277.8 378.0,277.8 378.5,277.9 379.0,277.9 379.5,278.0 380.0,278.0 380.5,278.0 381.0,278.1 381.5,278.1 382.0,278.1 382.5,278.2 383.0,278.2 383.5,278.2 384.0,278.3 384.5,278.3 385.0,278.3 385.5,278.4 386.0,278.4 386.5,278.4 387.0,278.5 387.5,278.5 388.0,278.6 388.5,278.6 389.0,278.6 389.5,278.7 390.0,278.7 390.5,278.7 391.0,278.8 391.5,278.8 392.0,278.9 392.5,278.9 393.0,278.9 393.5,279.0 394.0,279.0 394.5,279.1 395.0,279.1 395.5,279.2 396.0,279.2 396.5,279.2 397.0,279.3 397.5,279.3 398.0,279.4 398.5,279.4 399.0,279.5 399.5,279.5 400.0,279.6 400.5,279.7 401.0,279.7 401.5,279.8 402.0,279.8 402.5,279.9 403.0,280.0 403.5,280.0 404.0,280.1 404.5,280.2 405.0,280.2 405.5,280.3 406.0,280.4 406.5,280.5 407.0,280.6 407.5,280.6 408.0,280.7 408.5,280.8 409.0,280.9 409.5,281.0 410.0,281.1 410.5,281.1 411.0,281.2 411.5,281.3 412.0,281.4 412.5,281.5 413.0,281.6 413.5,281.7 414.0,281.8 414.5,281.9 415.0,282.0 415.5,282.1 416.0,282.2 416.5,282.4 417.0,282.5 417.5,282.6 418.0,282.8 418.5,282.9 419.0,283.0 419.5,283.2 420.0,283.3 420.5,283.5 421.0,283.6 421.5,283.8 422.0,284.0 422.5,284.1 423.0,284.3 423.5,284.4 424.0,284.6 424.5,284.7 425.0,284.9 425.5,285.0 426.0,285.2 426.5,285.3 427.0,285.5 427.5,285.6 428.0,285.8 428.5,285.9 429.0,286.0 429.5,286.1 430.0,286.2 430.5,286.4 431.0,286.5 431.5,286.6 432.0,286.7 432.5,286.8 433.0,286.9 433.5,287.1 434.0,287.2 434.5,287.3 435.0,287.4 435.5,287.5 436.0,287.6 436.5,287.7 437.0,287.8 437.5,287.9 438.0,288.0 438.5,288.1 439.0,288.2 439.5,288.3 440.0,288.4 440.5,288.5 441.0,288.6 441.5,288.7 442.0,288.8 442.5,288.8 443.0,288.9 443.5,289.0 444.0,289.1 444.5,289.1 445.0,289.2 445.5,289.3 446.0,289.3 446.5,289.4 447.0,289.5 447.5,289.5 448.0,289.6 448.5,289.6 449.0,289.7 449.5,289.8 450.0,289.8 450.5,289.9 451.0,289.9 451.5,290.0 452.0,290.0 452.5,290.1 453.0,290.1 453.5,290.2 454.0,290.2 454.5,290.3 455.0,290.3 455.5,290.4 456.0,290.4 456.5,290.5 457.0,290.5 457.5,290.6 458.0,290.6 458.5,290.6 459.0,290.7 459.5,290.7 460.0,290.8 460.5,290.8 461.0,290.8 461.5,290.9 462.0,290.9 462.5,290.9 463.0,291.0 463.5,291.0 464.0,291.0 464.5,291.0 465.0,291.1 465.5,291.1 466.0,291.1 466.5,291.2 467.0,291.2 467.5,291.2 468.0,291.3 468.5,291.3 469.0,291.3 469.5,291.4 470.0,291.4 470.5,291.4 471.0,291.5 471.5,291.5 472.0,291.6 472.5,291.6 473.0,291.6 473.5,291.7 474.0,291.7 474.5,291.8 475.0,291.8 475.5,291.8 476.0,291.9 476.5,291.9 477.0,292.0 477.5,292.0 478.0,292.1 478.5,292.1 479.0,292.1 479.5,292.2 480.0,292.2 480.5,292.3 481.0,292.3 481.5,292.4 482.0,292.4 482.5,292.5 483.0,292.5 483.5,292.5 484.0,292.6 484.5,292.6 485.0,292.7 485.5,292.7 486.0,292.7 486.5,292.8 487.0,292.8 487.5,292.8 488.0,292.9 488.5,292.9 489.0,292.9 489.5,293.0 490.0,293.0 490.5,293.0 491.0,293.1 491.5,293.1 492.0,293.1 492.5,293.1 493.0,293.2 493.5,293.2 494.0,293.2 494.5,293.3 495.0,293.3 495.5,293.3 496.0,293.3 496.5,293.4 497.0,293.4 497.5,293.4 498.0,293.4 498.5,293.5 499.0,293.5 499.5,293.5 500.0,293.5 500.5,293.6 501.0,293.6 501.5,293.6 502.0,293.6 502.5,293.7 503.0,293.7 503.5,293.7 504.0,293.7 504.5,293.8 505.0,293.8 505.5,293.8 506.0,293.8 506.5,293.8 507.0,293.9 507.5,293.9 508.0,293.9 508.5,293.9 509.0,293.9 509.5,294.0 510.0,294.0 510.5,294.0 511.0,294.0 511.5,294.0 512.0,294.0 512.5,294.1 513.0,294.1 513.5,294.1 514.0,294.1 514.5,294.1 515.0,294.1 515.5,294.2 516.0,294.2 516.5,294.2 517.0,294.2 517.5,294.2" fill="none" stroke="#A8A000" stroke-width="1.3" stroke-linejoin="round" />
<path d="M335.0,273.5 335.5,273.5 336.0,273.6 336.5,273.6 337.0,273.6 337.5,273.6 338.0,273.6 338.5,273.7 339.0,273.7 339.5,273.7 340.0,273.7 340.5,273.7 341.0,273.7 341.5,273.7 342.0,273.6 342.5,273.6 343.0,273.6 343.5,273.5 344.0,273.5 344.5,273.4 345.0,273.3 345.5,273.2 346.0,273.0 346.5,272.9 347.0,272.7 347.5,272.4 348.0,272.2 348.5,271.9 349.0,271.5 349.5,271.2 350.0,270.7 350.5,270.2 351.0,269.7 351.5,269.1 352.0,268.4 352.5,267.7 353.0,266.9 353.5,266.0 354.0,265.1 354.5,264.1 355.0,263.1 355.5,261.9 356.0,260.8 356.5,259.5 357.0,258.2 357.5,256.9 358.0,255.5 358.5,254.0 359.0,252.6 359.5,251.1 360.0,249.6 360.5,248.2 361.0,246.7 361.5,245.3 362.0,243.9 362.5,242.6 363.0,241.3 363.5,240.1 364.0,239.1 364.5,238.1 365.0,237.2 365.5,236.5 366.0,235.9 366.5,235.5 367.0,235.2 367.5,235.1 368.0,235.1 368.5,235.3 369.0,235.6 369.5,236.1 370.0,236.7 370.5,237.5 371.0,238.4 371.5,239.4 372.0,240.5 372.5,241.7 373.0,243.0 373.5,244.4 374.0,245.9 374.5,247.4 375.0,248.9 375.5,250.5 376.0,252.1 376.5,253.6 377.0,255.2 377.5,256.7 378.0,258.2 378.5,259.7 379.0,261.2 379.5,262.5 380.0,263.9 380.5,265.1 381.0,266.3 381.5,267.5 382.0,268.5 382.5,269.5 383.0,270.5 383.5,271.3 384.0,272.1 384.5,272.9 385.0,273.5 385.5,274.1 386.0,274.7 386.5,275.2 387.0,275.7 387.5,276.1 388.0,276.5 388.5,276.8 389.0,277.1 389.5,277.3 390.0,277.6 390.5,277.8 391.0,278.0 391.5,278.1 392.0,278.3 392.5,278.4 393.0,278.5 393.5,278.7 394.0,278.8 394.5,278.8 395.0,278.9 395.5,279.0 396.0,279.1 396.5,279.1 397.0,279.2 397.5,279.3 398.0,279.3 398.5,279.4 399.0,279.5 399.5,279.5 400.0,279.6" fill="none" stroke="#22C8F0" stroke-width="1.2" stroke-linejoin="round" />
<path d="M375.0,277.4 375.5,277.4 376.0,277.5 376.5,277.5 377.0,277.5 377.5,277.5 378.0,277.5 378.5,277.5 379.0,277.5 379.5,277.5 380.0,277.5 380.5,277.5 381.0,277.4 381.5,277.4 382.0,277.3 382.5,277.3 383.0,277.2 383.5,277.1 384.0,277.0 384.5,276.9 385.0,276.8 385.5,276.7 386.0,276.5 386.5,276.4 387.0,276.2 387.5,276.0 388.0,275.8 388.5,275.6 389.0,275.4 389.5,275.1 390.0,274.8 390.5,274.5 391.0,274.2 391.5,273.8 392.0,273.5 392.5,273.1 393.0,272.7 393.5,272.2 394.0,271.8 394.5,271.3 395.0,270.8 395.5,270.3 396.0,269.7 396.5,269.2 397.0,268.6 397.5,268.0 398.0,267.3 398.5,266.7 399.0,266.0 399.5,265.4 400.0,264.7 400.5,264.0 401.0,263.3 401.5,262.6 402.0,261.9 402.5,261.2 403.0,260.5 403.5,259.8 404.0,259.1 404.5,258.5 405.0,257.8 405.5,257.2 406.0,256.5 406.5,255.9 407.0,255.4 407.5,254.8 408.0,254.3 408.5,253.8 409.0,253.4 409.5,253.0 410.0,252.6 410.5,252.3 411.0,252.1 411.5,251.8 412.0,251.7 412.5,251.5 413.0,251.5 413.5,251.5 414.0,251.5 414.5,251.6 415.0,251.8 415.5,252.0 416.0,252.2 416.5,252.6 417.0,252.9 417.5,253.4 418.0,253.9 418.5,254.4 419.0,255.0 419.5,255.6 420.0,256.3 420.5,257.0 421.0,257.7 421.5,258.5 422.0,259.3 422.5,260.1 423.0,261.0 423.5,261.8 424.0,262.7 424.5,263.6 425.0,264.5 425.5,265.4 426.0,266.4 426.5,267.3 427.0,268.2 427.5,269.1 428.0,270.0 428.5,270.8 429.0,271.7 429.5,272.5 430.0,273.4 430.5,274.2 431.0,275.0 431.5,275.7 432.0,276.5 432.5,277.2 433.0,277.9 433.5,278.6 434.0,279.3 434.5,279.9 435.0,280.5 435.5,281.1 436.0,281.7 436.5,282.2 437.0,282.8 437.5,283.2 438.0,283.7 438.5,284.2 439.0,284.6 439.5,285.0 440.0,285.3 440.5,285.7 441.0,286.0 441.5,286.3 442.0,286.6 442.5,286.9 443.0,287.2 443.5,287.4 444.0,287.6 444.5,287.9 445.0,288.0 445.5,288.2 446.0,288.4 446.5,288.6 447.0,288.7 447.5,288.9 448.0,289.0 448.5,289.1 449.0,289.2 449.5,289.4 450.0,289.5 450.5,289.6 451.0,289.7 451.5,289.7 452.0,289.8 452.5,289.9 453.0,290.0 453.5,290.0 454.0,290.1 454.5,290.2 455.0,290.2 455.5,290.3 456.0,290.4 456.5,290.4 457.0,290.5 457.5,290.5 458.0,290.6 458.5,290.6 459.0,290.7 459.5,290.7 460.0,290.7" fill="none" stroke="#50B040" stroke-width="1.2" stroke-linejoin="round" />
<path d="M395.0,279.0 395.5,279.0 396.0,279.1 396.5,279.1 397.0,279.1 397.5,279.1 398.0,279.1 398.5,279.1 399.0,279.1 399.5,279.1 400.0,279.1 400.5,279.1 401.0,279.0 401.5,279.0 402.0,278.9 402.5,278.8 403.0,278.7 403.5,278.6 404.0,278.5 404.5,278.3 405.0,278.2 405.5,277.9 406.0,277.7 406.5,277.4 407.0,277.2 407.5,276.8 408.0,276.5 408.5,276.1 409.0,275.6 409.5,275.1 410.0,274.6 410.5,274.1 411.0,273.4 411.5,272.8 412.0,272.1 412.5,271.4 413.0,270.6 413.5,269.8 414.0,268.9 414.5,268.1 415.0,267.1 415.5,266.2 416.0,265.2 416.5,264.3 417.0,263.3 417.5,262.3 418.0,261.3 418.5,260.3 419.0,259.3 419.5,258.4 420.0,257.5 420.5,256.6 421.0,255.7 421.5,254.9 422.0,254.1 422.5,253.4 423.0,252.8 423.5,252.2 424.0,251.7 424.5,251.3 425.0,250.9 425.5,250.7 426.0,250.5 426.5,250.5 427.0,250.5 427.5,250.6 428.0,250.8 428.5,251.2 429.0,251.6 429.5,252.1 430.0,252.7 430.5,253.3 431.0,254.1 431.5,254.9 432.0,255.8 432.5,256.8 433.0,257.8 433.5,258.9 434.0,260.0 434.5,261.2 435.0,262.4 435.5,263.6 436.0,264.8 436.5,266.0 437.0,267.3 437.5,268.5 438.0,269.7 438.5,270.9 439.0,272.1 439.5,273.2 440.0,274.4 440.5,275.4 441.0,276.5 441.5,277.5 442.0,278.4 442.5,279.4 443.0,280.2 443.5,281.1 444.0,281.8 444.5,282.6 445.0,283.3 445.5,283.9 446.0,284.5 446.5,285.1 447.0,285.6 447.5,286.0 448.0,286.5 448.5,286.9 449.0,287.3 449.5,287.6 450.0,287.9 450.5,288.2 451.0,288.5 451.5,288.7 452.0,288.9 452.5,289.1 453.0,289.3 453.5,289.5 454.0,289.6 454.5,289.8 455.0,289.9 455.5,290.0 456.0,290.1 456.5,290.2 457.0,290.3 457.5,290.4 458.0,290.4 458.5,290.5 459.0,290.6 459.5,290.6 460.0,290.7 460.5,290.7 461.0,290.8 461.5,290.8 462.0,290.9 462.5,290.9 463.0,290.9 463.5,291.0 464.0,291.0 464.5,291.0 465.0,291.1" fill="none" stroke="#FF60FF" stroke-width="1.2" stroke-linejoin="round" />
<path d="M405.0,280.1 405.5,280.1 406.0,280.2 406.5,280.2 407.0,280.3 407.5,280.3 408.0,280.4 408.5,280.4 409.0,280.5 409.5,280.5 410.0,280.5 410.5,280.5 411.0,280.6 411.5,280.6 412.0,280.6 412.5,280.6 413.0,280.6 413.5,280.6 414.0,280.6 414.5,280.5 415.0,280.5 415.5,280.4 416.0,280.4 416.5,280.3 417.0,280.3 417.5,280.2 418.0,280.1 418.5,280.0 419.0,279.9 419.5,279.8 420.0,279.7 420.5,279.5 421.0,279.4 421.5,279.2 422.0,279.0 422.5,278.8 423.0,278.5 423.5,278.3 424.0,278.0 424.5,277.7 425.0,277.4 425.5,277.1 426.0,276.7 426.5,276.3 427.0,275.9 427.5,275.5 428.0,275.0 428.5,274.6 429.0,274.1 429.5,273.6 430.0,273.1 430.5,272.6 431.0,272.1 431.5,271.5 432.0,271.0 432.5,270.4 433.0,269.9 433.5,269.4 434.0,268.8 434.5,268.3 435.0,267.8 435.5,267.3 436.0,266.8 436.5,266.3 437.0,265.8 437.5,265.4 438.0,264.9 438.5,264.5 439.0,264.2 439.5,263.8 440.0,263.5 440.5,263.2 441.0,262.9 441.5,262.7 442.0,262.5 442.5,262.4 443.0,262.3 443.5,262.2 444.0,262.1 444.5,262.1 445.0,262.2 445.5,262.3 446.0,262.4 446.5,262.6 447.0,262.8 447.5,263.1 448.0,263.4 448.5,263.7 449.0,264.1 449.5,264.5 450.0,264.9 450.5,265.4 451.0,265.9 451.5,266.4 452.0,267.0 452.5,267.5 453.0,268.1 453.5,268.8 454.0,269.4 454.5,270.1 455.0,270.7 455.5,271.4 456.0,272.1 456.5,272.8 457.0,273.5 457.5,274.2 458.0,274.9 458.5,275.6 459.0,276.3 459.5,276.9 460.0,277.6 460.5,278.3 461.0,278.9 461.5,279.6 462.0,280.2 462.5,280.8 463.0,281.4 463.5,282.0 464.0,282.5 464.5,283.0 465.0,283.6 465.5,284.1 466.0,284.6 466.5,285.0 467.0,285.5 467.5,285.9 468.0,286.3 468.5,286.7 469.0,287.1 469.5,287.4 470.0,287.7 470.5,288.1 471.0,288.4 471.5,288.7 472.0,288.9 472.5,289.2 473.0,289.4 473.5,289.7 474.0,289.9 474.5,290.1 475.0,290.3 475.5,290.5 476.0,290.6 476.5,290.8 477.0,291.0 477.5,291.1 478.0,291.2 478.5,291.4 479.0,291.5 479.5,291.6 480.0,291.7 480.5,291.8 481.0,291.9 481.5,292.0 482.0,292.1 482.5,292.2 483.0,292.2 483.5,292.3 484.0,292.4 484.5,292.4 485.0,292.5 485.5,292.6 486.0,292.6 486.5,292.7 487.0,292.7 487.5,292.8 488.0,292.8 488.5,292.8 489.0,292.9 489.5,292.9 490.0,293.0 490.5,293.0 491.0,293.0 491.5,293.1 492.0,293.1 492.5,293.1 493.0,293.2 493.5,293.2 494.0,293.2 494.5,293.2 495.0,293.3" fill="none" stroke="#3080FF" stroke-width="1.2" stroke-linejoin="round" />
<path d="M310.0,272.4 310.5,272.4 311.0,272.5 311.5,272.5 312.0,272.5 312.5,272.5 313.0,272.5 313.5,272.5 314.0,272.6 314.5,272.6 315.0,272.6 315.5,272.6 316.0,272.6 316.5,272.6 317.0,272.7 317.5,272.7 318.0,272.7 318.5,272.7 319.0,272.7 319.5,272.8 320.0,272.8 320.5,272.8 321.0,272.8 321.5,272.8 322.0,272.9 322.5,272.9 323.0,272.9 323.5,272.9 324.0,273.0 324.5,273.0 325.0,273.0 325.5,273.0 326.0,273.1 326.5,273.1 327.0,273.1 327.5,273.1 328.0,273.2 328.5,273.2 329.0,273.2 329.5,273.2 330.0,273.3 330.5,273.3 331.0,273.3 331.5,273.3 332.0,273.4 332.5,273.4 333.0,273.4 333.5,273.4 334.0,273.5 334.5,273.5 335.0,273.5 335.5,273.5 336.0,273.6 336.5,273.6 337.0,273.6 337.5,273.6 338.0,273.6 338.5,273.7 339.0,273.7 339.5,273.7 340.0,273.7 340.5,273.7 341.0,273.7 341.5,273.7 342.0,273.6 342.5,273.6 343.0,273.6 343.5,273.5 344.0,273.5 344.5,273.4 345.0,273.3 345.5,273.2 346.0,273.0 346.5,272.9 347.0,272.7 347.5,272.4 348.0,272.2 348.5,271.9 349.0,271.5 349.5,271.2 350.0,270.7 350.5,270.2 351.0,269.7 351.5,269.1 352.0,268.4 352.5,267.7 353.0,266.9 353.5,266.0 354.0,265.1 354.5,264.1 355.0,263.1 355.5,261.9 356.0,260.8 356.5,259.5 357.0,258.2 357.5,256.9 358.0,255.5 358.5,254.0 359.0,252.6 359.5,251.1 360.0,249.6 360.5,248.2 361.0,246.7 361.5,245.3 362.0,243.9 362.5,242.6 363.0,241.3 363.5,240.1 364.0,239.1 364.5,238.1 365.0,237.2 365.5,236.5 366.0,235.9 366.5,235.5 367.0,235.2 367.5,235.1 368.0,235.1 368.5,235.3 369.0,235.6 369.5,236.1 370.0,236.7 370.5,237.4 371.0,238.3 371.5,239.3 372.0,240.4 372.5,241.7 373.0,243.0 373.5,244.3 374.0,245.8 374.5,247.3 375.0,248.8 375.5,250.3 376.0,251.9 376.5,253.4 377.0,254.9 377.5,256.5 378.0,257.9 378.5,259.4 379.0,260.8 379.5,262.1 380.0,263.4 380.5,264.6 381.0,265.7 381.5,266.7 382.0,267.7 382.5,268.6 383.0,269.5 383.5,270.2 384.0,270.9 384.5,271.5 385.0,272.0 385.5,272.4 386.0,272.8 386.5,273.1 387.0,273.4 387.5,273.6 388.0,273.7 388.5,273.8 389.0,273.8 389.5,273.8 390.0,273.7 390.5,273.5 391.0,273.4 391.5,273.1 392.0,272.9 392.5,272.6 393.0,272.2 393.5,271.8 394.0,271.4 394.5,271.0 395.0,270.5 395.5,270.0 396.0,269.5 396.5,268.9 397.0,268.3 397.5,267.6 398.0,267.0 398.5,266.3 399.0,265.6 399.5,264.9 400.0,264.1 400.5,263.4 401.0,262.6 401.5,261.7 402.0,260.9 402.5,260.1 403.0,259.2 403.5,258.3 404.0,257.4 404.5,256.5 405.0,255.5 405.5,254.6 406.0,253.6 406.5,252.7 407.0,251.7 407.5,250.7 408.0,249.7 408.5,248.7 409.0,247.7 409.5,246.7 410.0,245.7 410.5,244.6 411.0,243.6 411.5,242.6 412.0,241.5 412.5,240.5 413.0,239.5 413.5,238.4 414.0,237.4 414.5,236.4 415.0,235.4 415.5,234.4 416.0,233.4 416.5,232.5 417.0,231.5 417.5,230.6 418.0,229.8 418.5,229.0 419.0,228.2 419.5,227.4 420.0,226.7 420.5,226.1 421.0,225.5 421.5,225.0 422.0,224.5 422.5,224.1 423.0,223.7 423.5,223.4 424.0,223.2 424.5,223.1 425.0,223.1 425.5,223.1 426.0,223.2 426.5,223.4 427.0,223.6 427.5,223.9 428.0,224.3 428.5,224.8 429.0,225.4 429.5,226.0 430.0,226.6 430.5,227.4 431.0,228.2 431.5,229.0 432.0,229.9 432.5,230.8 433.0,231.8 433.5,232.8 434.0,233.8 434.5,234.9 435.0,235.9 435.5,237.0 436.0,238.1 436.5,239.1 437.0,240.2 437.5,241.3 438.0,242.3 438.5,243.4 439.0,244.4 439.5,245.4 440.0,246.4 440.5,247.3 441.0,248.3 441.5,249.2 442.0,250.1 442.5,251.0 443.0,251.8 443.5,252.7 444.0,253.5 444.5,254.3 445.0,255.1 445.5,255.9 446.0,256.7 446.5,257.4 447.0,258.2 447.5,258.9 448.0,259.7 448.5,260.4 449.0,261.2 449.5,261.9 450.0,262.6 450.5,263.4 451.0,264.1 451.5,264.9 452.0,265.6 452.5,266.4 453.0,267.1 453.5,267.9 454.0,268.7 454.5,269.4 455.0,270.2 455.5,270.9 456.0,271.7 456.5,272.4 457.0,273.2 457.5,273.9 458.0,274.7 458.5,275.4 459.0,276.1 459.5,276.8 460.0,277.5 460.5,278.2 461.0,278.9 461.5,279.5 462.0,280.1 462.5,280.7 463.0,281.3 463.5,281.9 464.0,282.5 464.5,283.0 465.0,283.6 465.5,284.1 466.0,284.5 466.5,285.0 467.0,285.5 467.5,285.9 468.0,286.3 468.5,286.7 469.0,287.1 469.5,287.4 470.0,287.7 470.5,288.1 471.0,288.4 471.5,288.7 472.0,288.9 472.5,289.2 473.0,289.4 473.5,289.7 474.0,289.9 474.5,290.1 475.0,290.3 475.5,290.5 476.0,290.6 476.5,290.8 477.0,291.0 477.5,291.1 478.0,291.2 478.5,291.4 479.0,291.5 479.5,291.6 480.0,291.7 480.5,291.8 481.0,291.9 481.5,292.0 482.0,292.1 482.5,292.2 483.0,292.2 483.5,292.3 484.0,292.4 484.5,292.4 485.0,292.5 485.5,292.6 486.0,292.6 486.5,292.7 487.0,292.7 487.5,292.8 488.0,292.8 488.5,292.8 489.0,292.9 489.5,292.9 490.0,293.0 490.5,293.0 491.0,293.0 491.5,293.1 492.0,293.1 492.5,293.1 493.0,293.2 493.5,293.2 494.0,293.2 494.5,293.2 495.0,293.3 495.5,293.3 496.0,293.3 496.5,293.4 497.0,293.4 497.5,293.4 498.0,293.4 498.5,293.5 499.0,293.5 499.5,293.5 500.0,293.5 500.5,293.6 501.0,293.6 501.5,293.6 502.0,293.6 502.5,293.7 503.0,293.7 503.5,293.7 504.0,293.7 504.5,293.8 505.0,293.8 505.5,293.8 506.0,293.8 506.5,293.8 507.0,293.9 507.5,293.9 508.0,293.9 508.5,293.9 509.0,293.9 509.5,294.0 510.0,294.0 510.5,294.0 511.0,294.0 511.5,294.0 512.0,294.0 512.5,294.1 513.0,294.1 513.5,294.1 514.0,294.1 514.5,294.1 515.0,294.1 515.5,294.2 516.0,294.2 516.5,294.2 517.0,294.2 517.5,294.2" fill="none" stroke="#FF5050" stroke-width="1.3" stroke-linejoin="round" />
<text x="313.5" y="256.3" font-size="12" text-anchor="start" fill="#22C8F0" stroke="#22C8F0" stroke-width="0.3" >N-oxide</text>
<text transform="translate(356.0,210.8) rotate(44)" font-size="11.0" fill="#50B040" stroke="#50B040" stroke-width="0.3" >Graphitic N</text>
<text transform="translate(444.5,245.5) rotate(-39)" font-size="11.5" fill="#FF60FF" stroke="#FF60FF" stroke-width="0.3" >Pyrrolic N</text>
<text transform="translate(462.0,272.0) rotate(-38)" font-size="11.5" fill="#3080FF" stroke="#3080FF" stroke-width="0.3" >Pyridinic N</text>
<rect x="61.6" y="383.2" width="8.2" height="135.0" fill="#00CCFF"/>
<rect x="98.0" y="468.3" width="7.8" height="49.9" fill="#00CCFF"/>
<rect x="105.8" y="468.3" width="7.5" height="49.9" fill="#D99AFF"/>
<rect x="113.3" y="483.1" width="7.5" height="35.1" fill="#FF8480"/>
<rect x="144.7" y="482.4" width="7.5" height="35.8" fill="#00CCFF"/>
<rect x="152.2" y="456.8" width="6.9" height="61.4" fill="#D99AFF"/>
<rect x="159.1" y="479.1" width="7.8" height="39.1" fill="#FF8480"/>
<rect x="191.1" y="483.1" width="7.2" height="35.1" fill="#00CCFF"/>
<rect x="198.3" y="458.8" width="7.2" height="59.4" fill="#D99AFF"/>
<rect x="205.5" y="476.4" width="8.3" height="41.9" fill="#FF8480"/>
<rect x="40.2" y="376.7" width="199.7" height="141.5" fill="none" stroke="#000" stroke-width="1.6"/>
<line x1="37.2" y1="518.2" x2="40.2" y2="518.2" stroke="#000" stroke-width="1.0"/>
<line x1="239.9" y1="518.2" x2="242.9" y2="518.2" stroke="#000" stroke-width="1.0"/>
<text x="34.6" y="521.8" font-size="10.7" text-anchor="end" fill="#000" stroke="#000" stroke-width="0.3" >0</text>
<text x="243.3" y="521.8" font-size="10.7" text-anchor="start" fill="#000" stroke="#000" stroke-width="0.3" >0</text>
<line x1="37.2" y1="491.2" x2="40.2" y2="491.2" stroke="#000" stroke-width="1.0"/>
<line x1="239.9" y1="491.2" x2="242.9" y2="491.2" stroke="#000" stroke-width="1.0"/>
<text x="34.6" y="494.8" font-size="10.7" text-anchor="end" fill="#000" stroke="#000" stroke-width="0.3" >20</text>
<text x="243.3" y="494.8" font-size="10.7" text-anchor="start" fill="#000" stroke="#000" stroke-width="0.3" >20</text>
<line x1="37.2" y1="464.2" x2="40.2" y2="464.2" stroke="#000" stroke-width="1.0"/>
<line x1="239.9" y1="464.2" x2="242.9" y2="464.2" stroke="#000" stroke-width="1.0"/>
<text x="34.6" y="467.8" font-size="10.7" text-anchor="end" fill="#000" stroke="#000" stroke-width="0.3" >40</text>
<text x="243.3" y="467.8" font-size="10.7" text-anchor="start" fill="#000" stroke="#000" stroke-width="0.3" >40</text>
<line x1="37.2" y1="437.2" x2="40.2" y2="437.2" stroke="#000" stroke-width="1.0"/>
<line x1="239.9" y1="437.2" x2="242.9" y2="437.2" stroke="#000" stroke-width="1.0"/>
<text x="34.6" y="440.8" font-size="10.7" text-anchor="end" fill="#000" stroke="#000" stroke-width="0.3" >60</text>
<text x="243.3" y="440.8" font-size="10.7" text-anchor="start" fill="#000" stroke="#000" stroke-width="0.3" >60</text>
<line x1="37.2" y1="410.2" x2="40.2" y2="410.2" stroke="#000" stroke-width="1.0"/>
<line x1="239.9" y1="410.2" x2="242.9" y2="410.2" stroke="#000" stroke-width="1.0"/>
<text x="34.6" y="413.8" font-size="10.7" text-anchor="end" fill="#000" stroke="#000" stroke-width="0.3" >80</text>
<text x="243.3" y="413.8" font-size="10.7" text-anchor="start" fill="#000" stroke="#000" stroke-width="0.3" >80</text>
<line x1="37.2" y1="383.2" x2="40.2" y2="383.2" stroke="#000" stroke-width="1.0"/>
<line x1="239.9" y1="383.2" x2="242.9" y2="383.2" stroke="#000" stroke-width="1.0"/>
<text x="34.6" y="386.8" font-size="10.7" text-anchor="end" fill="#000" stroke="#000" stroke-width="0.3" >100</text>
<text x="243.3" y="386.8" font-size="10.7" text-anchor="start" fill="#000" stroke="#000" stroke-width="0.3" >100</text>
<line x1="38.4" y1="504.7" x2="40.2" y2="504.7" stroke="#000" stroke-width="1.0"/>
<line x1="239.9" y1="504.7" x2="241.7" y2="504.7" stroke="#000" stroke-width="1.0"/>
<line x1="38.4" y1="477.7" x2="40.2" y2="477.7" stroke="#000" stroke-width="1.0"/>
<line x1="239.9" y1="477.7" x2="241.7" y2="477.7" stroke="#000" stroke-width="1.0"/>
<line x1="38.4" y1="450.7" x2="40.2" y2="450.7" stroke="#000" stroke-width="1.0"/>
<line x1="239.9" y1="450.7" x2="241.7" y2="450.7" stroke="#000" stroke-width="1.0"/>
<line x1="38.4" y1="423.7" x2="40.2" y2="423.7" stroke="#000" stroke-width="1.0"/>
<line x1="239.9" y1="423.7" x2="241.7" y2="423.7" stroke="#000" stroke-width="1.0"/>
<line x1="38.4" y1="396.7" x2="40.2" y2="396.7" stroke="#000" stroke-width="1.0"/>
<line x1="239.9" y1="396.7" x2="241.7" y2="396.7" stroke="#000" stroke-width="1.0"/>
<text x="7.2" y="379.5" font-size="11.5" text-anchor="start" fill="#000" stroke="#000" stroke-width="0.3" >e</text>
<text transform="translate(14.5,454.3) rotate(-90)" font-size="11.2" text-anchor="middle" fill="#000" stroke="#000" stroke-width="0.3" >O Amount ( at.% )</text>
<text transform="translate(270.2,449.3) rotate(-90)" font-size="11.2" text-anchor="middle" fill="#000" stroke="#000" stroke-width="0.3" >Selectivity ( % )</text>
<text x="61.3" y="529.5" font-size="8.3" text-anchor="middle" fill="#000" stroke="#000" stroke-width="0.3" letter-spacing="0.55">NPC-900</text>
<text x="108.3" y="529.5" font-size="8.3" text-anchor="middle" fill="#000" stroke="#000" stroke-width="0.3" letter-spacing="0.55">O-NPC-80</text>
<text x="155.3" y="529.5" font-size="8.3" text-anchor="middle" fill="#000" stroke="#000" stroke-width="0.3" letter-spacing="0.55">O-NPC-100</text>
<text x="203.0" y="529.5" font-size="8.3" text-anchor="middle" fill="#000" stroke="#000" stroke-width="0.3" letter-spacing="0.55">O-NPC-120</text>
<text x="134.0" y="543.0" font-size="11" text-anchor="middle" fill="#000" stroke="#000" stroke-width="0.3" >Sample</text>
<rect x="91.0" y="381.4" width="16.7" height="8.4" fill="#00CCFF"/>
<text x="109.7" y="389.0" font-size="9.1" text-anchor="start" fill="#000" stroke="#000" stroke-width="0.3" >C-O-C / - OH</text>
<rect x="177.3" y="381.4" width="16.3" height="8.4" fill="#D99AFF"/>
<text x="196.0" y="389.0" font-size="9.1" text-anchor="start" fill="#000" stroke="#000" stroke-width="0.3" >C = O</text>
<rect x="91.0" y="395.2" width="16.7" height="7.6" fill="#FF8480"/>
<text x="109.7" y="402.3" font-size="9.1" text-anchor="start" fill="#000" stroke="#000" stroke-width="0.3" >- COOH</text>
<path d="M65.2,465.6 109.4,442.2 156.5,432.7 202.4,405.9" fill="none" stroke="#0A0AF5" stroke-width="1.4" stroke-linejoin="round" />
<line x1="65.2" y1="460.2" x2="65.2" y2="471.0" stroke="#0A0AF5" stroke-width="1.1"/>
<line x1="62.8" y1="460.2" x2="67.6" y2="460.2" stroke="#0A0AF5" stroke-width="1.1"/>
<line x1="62.8" y1="471.0" x2="67.6" y2="471.0" stroke="#0A0AF5" stroke-width="1.1"/>
<path d="M65.2,460.7 66.5,463.8 69.9,464.0 67.3,466.2 68.1,469.5 65.2,467.8 62.3,469.5 63.1,466.2 60.5,464.0 63.9,463.8Z" fill="#2A8CFF" stroke="#0A0AF5" stroke-width="1.1"/>
<line x1="109.4" y1="436.8" x2="109.4" y2="447.6" stroke="#0A0AF5" stroke-width="1.1"/>
<line x1="107.0" y1="436.8" x2="111.8" y2="436.8" stroke="#0A0AF5" stroke-width="1.1"/>
<line x1="107.0" y1="447.6" x2="111.8" y2="447.6" stroke="#0A0AF5" stroke-width="1.1"/>
<path d="M109.4,437.3 110.7,440.4 114.1,440.7 111.5,442.9 112.3,446.2 109.4,444.4 106.5,446.2 107.3,442.9 104.7,440.7 108.1,440.4Z" fill="#2A8CFF" stroke="#0A0AF5" stroke-width="1.1"/>
<line x1="156.5" y1="425.7" x2="156.5" y2="439.7" stroke="#0A0AF5" stroke-width="1.1"/>
<line x1="154.1" y1="425.7" x2="158.9" y2="425.7" stroke="#0A0AF5" stroke-width="1.1"/>
<line x1="154.1" y1="439.7" x2="158.9" y2="439.7" stroke="#0A0AF5" stroke-width="1.1"/>
<path d="M156.5,427.8 157.8,431.0 161.2,431.2 158.6,433.4 159.4,436.7 156.5,435.0 153.6,436.7 154.4,433.4 151.8,431.2 155.2,431.0Z" fill="#2A8CFF" stroke="#0A0AF5" stroke-width="1.1"/>
<line x1="202.4" y1="401.3" x2="202.4" y2="410.5" stroke="#0A0AF5" stroke-width="1.1"/>
<line x1="200.0" y1="401.3" x2="204.8" y2="401.3" stroke="#0A0AF5" stroke-width="1.1"/>
<line x1="200.0" y1="410.5" x2="204.8" y2="410.5" stroke="#0A0AF5" stroke-width="1.1"/>
<path d="M202.4,401.0 203.7,404.1 207.1,404.4 204.5,406.6 205.3,409.8 202.4,408.1 199.5,409.8 200.3,406.6 197.7,404.4 201.1,404.1Z" fill="#2A8CFF" stroke="#0A0AF5" stroke-width="1.1"/>
<rect x="331.4" y="395.7" width="6.9" height="123.7" fill="#DDA0F5"/>
<rect x="338.3" y="421.3" width="6.9" height="98.1" fill="#5CE08A"/>
<rect x="345.2" y="462.7" width="7.4" height="56.7" fill="#FF8080"/>
<rect x="369.6" y="465.5" width="7.1" height="53.9" fill="#10D5FF"/>
<rect x="376.7" y="451.6" width="6.8" height="67.8" fill="#DDA0F5"/>
<rect x="383.5" y="423.8" width="7.1" height="95.6" fill="#5CE08A"/>
<rect x="390.6" y="457.4" width="7.3" height="62.0" fill="#FF8080"/>
<rect x="415.2" y="454.6" width="6.7" height="64.8" fill="#10D5FF"/>
<rect x="421.9" y="440.2" width="7.2" height="79.2" fill="#DDA0F5"/>
<rect x="429.1" y="449.6" width="6.5" height="69.8" fill="#5CE08A"/>
<rect x="435.6" y="454.6" width="7.2" height="64.8" fill="#FF8080"/>
<rect x="459.7" y="458.5" width="6.8" height="60.9" fill="#10D5FF"/>
<rect x="466.5" y="447.1" width="6.7" height="72.3" fill="#DDA0F5"/>
<rect x="473.2" y="447.7" width="6.9" height="71.7" fill="#5CE08A"/>
<rect x="480.1" y="446.3" width="7.5" height="73.1" fill="#FF8080"/>
<rect x="315.9" y="380.2" width="190.0" height="139.2" fill="none" stroke="#000" stroke-width="1.6"/>
<line x1="312.9" y1="519.4" x2="315.9" y2="519.4" stroke="#000" stroke-width="1.0"/>
<text x="309.9" y="522.8" font-size="10.9" text-anchor="end" fill="#000" stroke="#000" stroke-width="0.3" >0</text>
<line x1="312.9" y1="491.6" x2="315.9" y2="491.6" stroke="#000" stroke-width="1.0"/>
<text x="309.9" y="495.0" font-size="10.9" text-anchor="end" fill="#000" stroke="#000" stroke-width="0.3" >10</text>
<line x1="312.9" y1="463.8" x2="315.9" y2="463.8" stroke="#000" stroke-width="1.0"/>
<text x="309.9" y="467.2" font-size="10.9" text-anchor="end" fill="#000" stroke="#000" stroke-width="0.3" >20</text>
<line x1="312.9" y1="436.0" x2="315.9" y2="436.0" stroke="#000" stroke-width="1.0"/>
<text x="309.9" y="439.4" font-size="10.9" text-anchor="end" fill="#000" stroke="#000" stroke-width="0.3" >30</text>
<line x1="312.9" y1="408.2" x2="315.9" y2="408.2" stroke="#000" stroke-width="1.0"/>
<text x="309.9" y="411.6" font-size="10.9" text-anchor="end" fill="#000" stroke="#000" stroke-width="0.3" >40</text>
<line x1="312.9" y1="380.4" x2="315.9" y2="380.4" stroke="#000" stroke-width="1.0"/>
<text x="309.9" y="383.8" font-size="10.9" text-anchor="end" fill="#000" stroke="#000" stroke-width="0.3" >50</text>
<line x1="314.1" y1="505.5" x2="315.9" y2="505.5" stroke="#000" stroke-width="1.0"/>
<line x1="314.1" y1="477.7" x2="315.9" y2="477.7" stroke="#000" stroke-width="1.0"/>
<line x1="314.1" y1="449.9" x2="315.9" y2="449.9" stroke="#000" stroke-width="1.0"/>
<line x1="314.1" y1="422.1" x2="315.9" y2="422.1" stroke="#000" stroke-width="1.0"/>
<line x1="314.1" y1="394.3" x2="315.9" y2="394.3" stroke="#000" stroke-width="1.0"/>
<line x1="505.9" y1="519.4" x2="508.9" y2="519.4" stroke="#000" stroke-width="1.0"/>
<text x="509.0" y="522.8" font-size="10.9" text-anchor="start" fill="#000" stroke="#000" stroke-width="0.3" >0</text>
<line x1="505.9" y1="491.6" x2="508.9" y2="491.6" stroke="#000" stroke-width="1.0"/>
<text x="509.0" y="495.0" font-size="10.9" text-anchor="start" fill="#000" stroke="#000" stroke-width="0.3" >20</text>
<line x1="505.9" y1="463.8" x2="508.9" y2="463.8" stroke="#000" stroke-width="1.0"/>
<text x="509.0" y="467.2" font-size="10.9" text-anchor="start" fill="#000" stroke="#000" stroke-width="0.3" >40</text>
<line x1="505.9" y1="436.0" x2="508.9" y2="436.0" stroke="#000" stroke-width="1.0"/>
<text x="509.0" y="439.4" font-size="10.9" text-anchor="start" fill="#000" stroke="#000" stroke-width="0.3" >60</text>
<line x1="505.9" y1="408.2" x2="508.9" y2="408.2" stroke="#000" stroke-width="1.0"/>
<text x="509.0" y="411.6" font-size="10.9" text-anchor="start" fill="#000" stroke="#000" stroke-width="0.3" >80</text>
<line x1="505.9" y1="380.4" x2="508.9" y2="380.4" stroke="#000" stroke-width="1.0"/>
<text x="509.0" y="383.8" font-size="10.9" text-anchor="start" fill="#000" stroke="#000" stroke-width="0.3" >100</text>
<line x1="505.9" y1="505.5" x2="507.7" y2="505.5" stroke="#000" stroke-width="1.0"/>
<line x1="505.9" y1="477.7" x2="507.7" y2="477.7" stroke="#000" stroke-width="1.0"/>
<line x1="505.9" y1="449.9" x2="507.7" y2="449.9" stroke="#000" stroke-width="1.0"/>
<line x1="505.9" y1="422.1" x2="507.7" y2="422.1" stroke="#000" stroke-width="1.0"/>
<line x1="505.9" y1="394.3" x2="507.7" y2="394.3" stroke="#000" stroke-width="1.0"/>
<text x="283.5" y="382.8" font-size="10.5" text-anchor="start" fill="#000" stroke="#000" stroke-width="0.3" >f</text>
<text transform="translate(293.0,451.8) rotate(-90)" font-size="11.2" text-anchor="middle" fill="#000" stroke="#000" stroke-width="0.3" >N Amount ( at.% )</text>
<text transform="translate(538.0,454.5) rotate(-90)" font-size="11.2" text-anchor="middle" fill="#000" stroke="#000" stroke-width="0.3" >Selectivity ( % )</text>
<text x="335.8" y="531.3" font-size="8.8" text-anchor="middle" fill="#000" stroke="#000" stroke-width="0.3" letter-spacing="0.7">NPC-900</text>
<text x="381.0" y="531.3" font-size="8.8" text-anchor="middle" fill="#000" stroke="#000" stroke-width="0.3" letter-spacing="0.7">O-NPC-80</text>
<text x="431.5" y="531.3" font-size="8.8" text-anchor="middle" fill="#000" stroke="#000" stroke-width="0.3" letter-spacing="0.7">O-NPC-100</text>
<text x="483.5" y="531.3" font-size="8.8" text-anchor="middle" fill="#000" stroke="#000" stroke-width="0.3" letter-spacing="0.7">O-NPC-120</text>
<text x="411.0" y="545.0" font-size="11" text-anchor="middle" fill="#000" stroke="#000" stroke-width="0.3" >Sample</text>
<rect x="342.9" y="382.2" width="17.3" height="8.0" fill="#10D5FF"/>
<text x="362.7" y="389.8" font-size="9.8" text-anchor="start" fill="#000" stroke="#000" stroke-width="0.3" >N-Oxide</text>
<rect x="342.9" y="394.3" width="17.3" height="7.7" fill="#5CE08A"/>
<text x="362.7" y="401.8" font-size="9.8" text-anchor="start" fill="#000" stroke="#000" stroke-width="0.3" >Pyrrolic N</text>
<rect x="411.0" y="383.0" width="18.0" height="8.0" fill="#DDA0F5"/>
<text x="431.6" y="390.2" font-size="9.8" text-anchor="start" fill="#000" stroke="#000" stroke-width="0.3" >Pyridinic N</text>
<rect x="411.0" y="394.3" width="18.0" height="7.7" fill="#FF8080"/>
<text x="431.6" y="401.8" font-size="9.8" text-anchor="start" fill="#000" stroke="#000" stroke-width="0.3" >Graphitic N</text>
<path d="M338.4,465.5 384.0,440.9 429.1,431.0 473.9,403.6" fill="none" stroke="#0A0AF5" stroke-width="1.4" stroke-linejoin="round" />
<line x1="338.4" y1="460.1" x2="338.4" y2="470.9" stroke="#0A0AF5" stroke-width="1.1"/>
<line x1="336.0" y1="460.1" x2="340.8" y2="460.1" stroke="#0A0AF5" stroke-width="1.1"/>
<line x1="336.0" y1="470.9" x2="340.8" y2="470.9" stroke="#0A0AF5" stroke-width="1.1"/>
<path d="M338.4,460.6 339.7,463.7 343.1,464.0 340.5,466.1 341.3,469.4 338.4,467.7 335.5,469.4 336.3,466.1 333.7,464.0 337.1,463.7Z" fill="#2A8CFF" stroke="#0A0AF5" stroke-width="1.1"/>
<line x1="384.0" y1="435.5" x2="384.0" y2="446.3" stroke="#0A0AF5" stroke-width="1.1"/>
<line x1="381.6" y1="435.5" x2="386.4" y2="435.5" stroke="#0A0AF5" stroke-width="1.1"/>
<line x1="381.6" y1="446.3" x2="386.4" y2="446.3" stroke="#0A0AF5" stroke-width="1.1"/>
<path d="M384.0,436.0 385.3,439.1 388.7,439.4 386.1,441.5 386.9,444.8 384.0,443.1 381.1,444.8 381.9,441.5 379.3,439.4 382.7,439.1Z" fill="#2A8CFF" stroke="#0A0AF5" stroke-width="1.1"/>
<line x1="429.1" y1="424.0" x2="429.1" y2="438.0" stroke="#0A0AF5" stroke-width="1.1"/>
<line x1="426.7" y1="424.0" x2="431.5" y2="424.0" stroke="#0A0AF5" stroke-width="1.1"/>
<line x1="426.7" y1="438.0" x2="431.5" y2="438.0" stroke="#0A0AF5" stroke-width="1.1"/>
<path d="M429.1,426.1 430.4,429.2 433.8,429.5 431.2,431.7 432.0,435.0 429.1,433.2 426.2,435.0 427.0,431.7 424.4,429.5 427.8,429.2Z" fill="#2A8CFF" stroke="#0A0AF5" stroke-width="1.1"/>
<line x1="473.9" y1="399.0" x2="473.9" y2="408.2" stroke="#0A0AF5" stroke-width="1.1"/>
<line x1="471.5" y1="399.0" x2="476.3" y2="399.0" stroke="#0A0AF5" stroke-width="1.1"/>
<line x1="471.5" y1="408.2" x2="476.3" y2="408.2" stroke="#0A0AF5" stroke-width="1.1"/>
<path d="M473.9,398.7 475.2,401.8 478.6,402.1 476.0,404.3 476.8,407.6 473.9,405.8 471.0,407.6 471.8,404.3 469.2,402.1 472.6,401.8Z" fill="#2A8CFF" stroke="#0A0AF5" stroke-width="1.1"/>
</svg></body></html>
